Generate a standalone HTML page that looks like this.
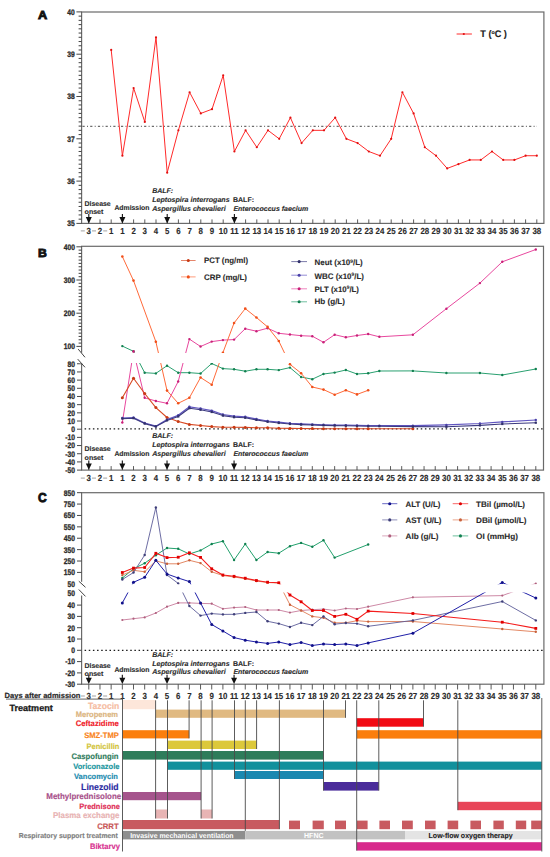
<!DOCTYPE html>
<html><head><meta charset="utf-8"><style>
html,body{margin:0;padding:0;background:#fff;width:550px;height:857px;overflow:hidden}
svg{display:block}
text{font-family:"Liberation Sans",sans-serif;text-rendering:geometricPrecision}
</style></head><body>
<svg width="550" height="857" viewBox="0 0 550 857" font-family='"Liberation Sans", sans-serif'>
<rect width="550" height="857" fill="#ffffff"/>
<defs>
<clipPath id="cbU"><rect x="82" y="246" width="462" height="107"/></clipPath>
<clipPath id="cbL"><rect x="82" y="363.1" width="462" height="107.5"/></clipPath>
<clipPath id="ccU"><rect x="82" y="492" width="462" height="92.3"/></clipPath>
<clipPath id="ccL"><rect x="82" y="592.6" width="462" height="92"/></clipPath>
</defs>
<text x="37.9" y="18.95" font-size="11.8" text-anchor="start" fill="#111" font-weight="bold" font-style="normal" textLength="9.2" lengthAdjust="spacingAndGlyphs" stroke="#111" stroke-width="0.9">A</text>
<rect x="81.6" y="12" width="462.3" height="211.4" fill="none" stroke="#6a6a6a" stroke-width="1.2"/>
<line x1="76.4" y1="223.4" x2="81.6" y2="223.4" stroke="#484848" stroke-width="1"/>
<text x="74.8" y="226.28" font-size="8" text-anchor="end" fill="#2a2a2a" font-weight="bold" font-style="normal" textLength="7.47" lengthAdjust="spacingAndGlyphs" stroke="#2a2a2a" stroke-width="0.3">35</text>
<line x1="78.6" y1="219.17" x2="81.6" y2="219.17" stroke="#484848" stroke-width="1.05"/>
<line x1="78.6" y1="214.94" x2="81.6" y2="214.94" stroke="#484848" stroke-width="1.05"/>
<line x1="78.6" y1="210.71" x2="81.6" y2="210.71" stroke="#484848" stroke-width="1.05"/>
<line x1="78.6" y1="206.48" x2="81.6" y2="206.48" stroke="#484848" stroke-width="1.05"/>
<line x1="78.6" y1="202.25" x2="81.6" y2="202.25" stroke="#484848" stroke-width="1.05"/>
<line x1="78.6" y1="198.02" x2="81.6" y2="198.02" stroke="#484848" stroke-width="1.05"/>
<line x1="78.6" y1="193.79" x2="81.6" y2="193.79" stroke="#484848" stroke-width="1.05"/>
<line x1="78.6" y1="189.56" x2="81.6" y2="189.56" stroke="#484848" stroke-width="1.05"/>
<line x1="78.6" y1="185.33" x2="81.6" y2="185.33" stroke="#484848" stroke-width="1.05"/>
<line x1="76.4" y1="181.1" x2="81.6" y2="181.1" stroke="#484848" stroke-width="1"/>
<text x="74.8" y="183.98" font-size="8" text-anchor="end" fill="#2a2a2a" font-weight="bold" font-style="normal" textLength="7.47" lengthAdjust="spacingAndGlyphs" stroke="#2a2a2a" stroke-width="0.3">36</text>
<line x1="78.6" y1="176.87" x2="81.6" y2="176.87" stroke="#484848" stroke-width="1.05"/>
<line x1="78.6" y1="172.64" x2="81.6" y2="172.64" stroke="#484848" stroke-width="1.05"/>
<line x1="78.6" y1="168.41" x2="81.6" y2="168.41" stroke="#484848" stroke-width="1.05"/>
<line x1="78.6" y1="164.18" x2="81.6" y2="164.18" stroke="#484848" stroke-width="1.05"/>
<line x1="78.6" y1="159.95" x2="81.6" y2="159.95" stroke="#484848" stroke-width="1.05"/>
<line x1="78.6" y1="155.72" x2="81.6" y2="155.72" stroke="#484848" stroke-width="1.05"/>
<line x1="78.6" y1="151.49" x2="81.6" y2="151.49" stroke="#484848" stroke-width="1.05"/>
<line x1="78.6" y1="147.26" x2="81.6" y2="147.26" stroke="#484848" stroke-width="1.05"/>
<line x1="78.6" y1="143.03" x2="81.6" y2="143.03" stroke="#484848" stroke-width="1.05"/>
<line x1="76.4" y1="138.8" x2="81.6" y2="138.8" stroke="#484848" stroke-width="1"/>
<text x="74.8" y="141.68" font-size="8" text-anchor="end" fill="#2a2a2a" font-weight="bold" font-style="normal" textLength="7.47" lengthAdjust="spacingAndGlyphs" stroke="#2a2a2a" stroke-width="0.3">37</text>
<line x1="78.6" y1="134.57" x2="81.6" y2="134.57" stroke="#484848" stroke-width="1.05"/>
<line x1="78.6" y1="130.34" x2="81.6" y2="130.34" stroke="#484848" stroke-width="1.05"/>
<line x1="78.6" y1="126.11" x2="81.6" y2="126.11" stroke="#484848" stroke-width="1.05"/>
<line x1="78.6" y1="121.88" x2="81.6" y2="121.88" stroke="#484848" stroke-width="1.05"/>
<line x1="78.6" y1="117.65" x2="81.6" y2="117.65" stroke="#484848" stroke-width="1.05"/>
<line x1="78.6" y1="113.42" x2="81.6" y2="113.42" stroke="#484848" stroke-width="1.05"/>
<line x1="78.6" y1="109.19" x2="81.6" y2="109.19" stroke="#484848" stroke-width="1.05"/>
<line x1="78.6" y1="104.96" x2="81.6" y2="104.96" stroke="#484848" stroke-width="1.05"/>
<line x1="78.6" y1="100.73" x2="81.6" y2="100.73" stroke="#484848" stroke-width="1.05"/>
<line x1="76.4" y1="96.5" x2="81.6" y2="96.5" stroke="#484848" stroke-width="1"/>
<text x="74.8" y="99.38" font-size="8" text-anchor="end" fill="#2a2a2a" font-weight="bold" font-style="normal" textLength="7.47" lengthAdjust="spacingAndGlyphs" stroke="#2a2a2a" stroke-width="0.3">38</text>
<line x1="78.6" y1="92.27" x2="81.6" y2="92.27" stroke="#484848" stroke-width="1.05"/>
<line x1="78.6" y1="88.04" x2="81.6" y2="88.04" stroke="#484848" stroke-width="1.05"/>
<line x1="78.6" y1="83.81" x2="81.6" y2="83.81" stroke="#484848" stroke-width="1.05"/>
<line x1="78.6" y1="79.58" x2="81.6" y2="79.58" stroke="#484848" stroke-width="1.05"/>
<line x1="78.6" y1="75.35" x2="81.6" y2="75.35" stroke="#484848" stroke-width="1.05"/>
<line x1="78.6" y1="71.12" x2="81.6" y2="71.12" stroke="#484848" stroke-width="1.05"/>
<line x1="78.6" y1="66.89" x2="81.6" y2="66.89" stroke="#484848" stroke-width="1.05"/>
<line x1="78.6" y1="62.66" x2="81.6" y2="62.66" stroke="#484848" stroke-width="1.05"/>
<line x1="78.6" y1="58.43" x2="81.6" y2="58.43" stroke="#484848" stroke-width="1.05"/>
<line x1="76.4" y1="54.2" x2="81.6" y2="54.2" stroke="#484848" stroke-width="1"/>
<text x="74.8" y="57.08" font-size="8" text-anchor="end" fill="#2a2a2a" font-weight="bold" font-style="normal" textLength="7.47" lengthAdjust="spacingAndGlyphs" stroke="#2a2a2a" stroke-width="0.3">39</text>
<line x1="78.6" y1="49.97" x2="81.6" y2="49.97" stroke="#484848" stroke-width="1.05"/>
<line x1="78.6" y1="45.74" x2="81.6" y2="45.74" stroke="#484848" stroke-width="1.05"/>
<line x1="78.6" y1="41.51" x2="81.6" y2="41.51" stroke="#484848" stroke-width="1.05"/>
<line x1="78.6" y1="37.28" x2="81.6" y2="37.28" stroke="#484848" stroke-width="1.05"/>
<line x1="78.6" y1="33.05" x2="81.6" y2="33.05" stroke="#484848" stroke-width="1.05"/>
<line x1="78.6" y1="28.82" x2="81.6" y2="28.82" stroke="#484848" stroke-width="1.05"/>
<line x1="78.6" y1="24.59" x2="81.6" y2="24.59" stroke="#484848" stroke-width="1.05"/>
<line x1="78.6" y1="20.36" x2="81.6" y2="20.36" stroke="#484848" stroke-width="1.05"/>
<line x1="78.6" y1="16.13" x2="81.6" y2="16.13" stroke="#484848" stroke-width="1.05"/>
<line x1="76.4" y1="11.9" x2="81.6" y2="11.9" stroke="#484848" stroke-width="1"/>
<text x="74.8" y="14.78" font-size="8" text-anchor="end" fill="#2a2a2a" font-weight="bold" font-style="normal" textLength="7.47" lengthAdjust="spacingAndGlyphs" stroke="#2a2a2a" stroke-width="0.3">40</text>
<line x1="88.8" y1="223.4" x2="88.8" y2="219.4" stroke="#484848" stroke-width="0.9"/>
<line x1="100" y1="223.4" x2="100" y2="219.4" stroke="#484848" stroke-width="0.9"/>
<line x1="111.2" y1="223.4" x2="111.2" y2="219.4" stroke="#484848" stroke-width="0.9"/>
<line x1="122.4" y1="223.4" x2="122.4" y2="219.4" stroke="#484848" stroke-width="0.9"/>
<line x1="133.6" y1="223.4" x2="133.6" y2="219.4" stroke="#484848" stroke-width="0.9"/>
<line x1="144.8" y1="223.4" x2="144.8" y2="219.4" stroke="#484848" stroke-width="0.9"/>
<line x1="156" y1="223.4" x2="156" y2="219.4" stroke="#484848" stroke-width="0.9"/>
<line x1="167.2" y1="223.4" x2="167.2" y2="219.4" stroke="#484848" stroke-width="0.9"/>
<line x1="178.4" y1="223.4" x2="178.4" y2="219.4" stroke="#484848" stroke-width="0.9"/>
<line x1="189.6" y1="223.4" x2="189.6" y2="219.4" stroke="#484848" stroke-width="0.9"/>
<line x1="200.8" y1="223.4" x2="200.8" y2="219.4" stroke="#484848" stroke-width="0.9"/>
<line x1="212" y1="223.4" x2="212" y2="219.4" stroke="#484848" stroke-width="0.9"/>
<line x1="223.2" y1="223.4" x2="223.2" y2="219.4" stroke="#484848" stroke-width="0.9"/>
<line x1="234.4" y1="223.4" x2="234.4" y2="219.4" stroke="#484848" stroke-width="0.9"/>
<line x1="245.6" y1="223.4" x2="245.6" y2="219.4" stroke="#484848" stroke-width="0.9"/>
<line x1="256.8" y1="223.4" x2="256.8" y2="219.4" stroke="#484848" stroke-width="0.9"/>
<line x1="268" y1="223.4" x2="268" y2="219.4" stroke="#484848" stroke-width="0.9"/>
<line x1="279.2" y1="223.4" x2="279.2" y2="219.4" stroke="#484848" stroke-width="0.9"/>
<line x1="290.4" y1="223.4" x2="290.4" y2="219.4" stroke="#484848" stroke-width="0.9"/>
<line x1="301.6" y1="223.4" x2="301.6" y2="219.4" stroke="#484848" stroke-width="0.9"/>
<line x1="312.8" y1="223.4" x2="312.8" y2="219.4" stroke="#484848" stroke-width="0.9"/>
<line x1="324" y1="223.4" x2="324" y2="219.4" stroke="#484848" stroke-width="0.9"/>
<line x1="335.2" y1="223.4" x2="335.2" y2="219.4" stroke="#484848" stroke-width="0.9"/>
<line x1="346.4" y1="223.4" x2="346.4" y2="219.4" stroke="#484848" stroke-width="0.9"/>
<line x1="357.6" y1="223.4" x2="357.6" y2="219.4" stroke="#484848" stroke-width="0.9"/>
<line x1="368.8" y1="223.4" x2="368.8" y2="219.4" stroke="#484848" stroke-width="0.9"/>
<line x1="380" y1="223.4" x2="380" y2="219.4" stroke="#484848" stroke-width="0.9"/>
<line x1="391.2" y1="223.4" x2="391.2" y2="219.4" stroke="#484848" stroke-width="0.9"/>
<line x1="402.4" y1="223.4" x2="402.4" y2="219.4" stroke="#484848" stroke-width="0.9"/>
<line x1="413.6" y1="223.4" x2="413.6" y2="219.4" stroke="#484848" stroke-width="0.9"/>
<line x1="424.8" y1="223.4" x2="424.8" y2="219.4" stroke="#484848" stroke-width="0.9"/>
<line x1="436" y1="223.4" x2="436" y2="219.4" stroke="#484848" stroke-width="0.9"/>
<line x1="447.2" y1="223.4" x2="447.2" y2="219.4" stroke="#484848" stroke-width="0.9"/>
<line x1="458.4" y1="223.4" x2="458.4" y2="219.4" stroke="#484848" stroke-width="0.9"/>
<line x1="469.6" y1="223.4" x2="469.6" y2="219.4" stroke="#484848" stroke-width="0.9"/>
<line x1="480.8" y1="223.4" x2="480.8" y2="219.4" stroke="#484848" stroke-width="0.9"/>
<line x1="492" y1="223.4" x2="492" y2="219.4" stroke="#484848" stroke-width="0.9"/>
<line x1="503.2" y1="223.4" x2="503.2" y2="219.4" stroke="#484848" stroke-width="0.9"/>
<line x1="514.4" y1="223.4" x2="514.4" y2="219.4" stroke="#484848" stroke-width="0.9"/>
<line x1="525.6" y1="223.4" x2="525.6" y2="219.4" stroke="#484848" stroke-width="0.9"/>
<line x1="536.8" y1="223.4" x2="536.8" y2="219.4" stroke="#484848" stroke-width="0.9"/>
<text x="88.8" y="233.77" font-size="8.8" text-anchor="middle" fill="#2a2a2a" font-weight="bold" font-style="normal" textLength="4.4" lengthAdjust="spacingAndGlyphs" stroke="#2a2a2a" stroke-width="0.12">3</text>
<line x1="80.8" y1="230.9" x2="84.8" y2="230.9" stroke="#8a8a8a" stroke-width="0.8"/>
<text x="100" y="233.77" font-size="8.8" text-anchor="middle" fill="#2a2a2a" font-weight="bold" font-style="normal" textLength="4.4" lengthAdjust="spacingAndGlyphs" stroke="#2a2a2a" stroke-width="0.12">2</text>
<line x1="92" y1="230.9" x2="96" y2="230.9" stroke="#8a8a8a" stroke-width="0.8"/>
<text x="111.2" y="233.77" font-size="8.8" text-anchor="middle" fill="#2a2a2a" font-weight="bold" font-style="normal" textLength="4.4" lengthAdjust="spacingAndGlyphs" stroke="#2a2a2a" stroke-width="0.12">1</text>
<line x1="103.2" y1="230.9" x2="107.2" y2="230.9" stroke="#8a8a8a" stroke-width="0.8"/>
<text x="122.4" y="233.77" font-size="8.8" text-anchor="middle" fill="#2a2a2a" font-weight="bold" font-style="normal" textLength="4.4" lengthAdjust="spacingAndGlyphs" stroke="#2a2a2a" stroke-width="0.12">1</text>
<text x="133.6" y="233.77" font-size="8.8" text-anchor="middle" fill="#2a2a2a" font-weight="bold" font-style="normal" textLength="4.4" lengthAdjust="spacingAndGlyphs" stroke="#2a2a2a" stroke-width="0.12">2</text>
<text x="144.8" y="233.77" font-size="8.8" text-anchor="middle" fill="#2a2a2a" font-weight="bold" font-style="normal" textLength="4.4" lengthAdjust="spacingAndGlyphs" stroke="#2a2a2a" stroke-width="0.12">3</text>
<text x="156" y="233.77" font-size="8.8" text-anchor="middle" fill="#2a2a2a" font-weight="bold" font-style="normal" textLength="4.4" lengthAdjust="spacingAndGlyphs" stroke="#2a2a2a" stroke-width="0.12">4</text>
<text x="167.2" y="233.77" font-size="8.8" text-anchor="middle" fill="#2a2a2a" font-weight="bold" font-style="normal" textLength="4.4" lengthAdjust="spacingAndGlyphs" stroke="#2a2a2a" stroke-width="0.12">5</text>
<text x="178.4" y="233.77" font-size="8.8" text-anchor="middle" fill="#2a2a2a" font-weight="bold" font-style="normal" textLength="4.4" lengthAdjust="spacingAndGlyphs" stroke="#2a2a2a" stroke-width="0.12">6</text>
<text x="189.6" y="233.77" font-size="8.8" text-anchor="middle" fill="#2a2a2a" font-weight="bold" font-style="normal" textLength="4.4" lengthAdjust="spacingAndGlyphs" stroke="#2a2a2a" stroke-width="0.12">7</text>
<text x="200.8" y="233.77" font-size="8.8" text-anchor="middle" fill="#2a2a2a" font-weight="bold" font-style="normal" textLength="4.4" lengthAdjust="spacingAndGlyphs" stroke="#2a2a2a" stroke-width="0.12">8</text>
<text x="212" y="233.77" font-size="8.8" text-anchor="middle" fill="#2a2a2a" font-weight="bold" font-style="normal" textLength="4.4" lengthAdjust="spacingAndGlyphs" stroke="#2a2a2a" stroke-width="0.12">9</text>
<text x="223.2" y="233.77" font-size="8.8" text-anchor="middle" fill="#2a2a2a" font-weight="bold" font-style="normal" textLength="8.81" lengthAdjust="spacingAndGlyphs" stroke="#2a2a2a" stroke-width="0.12">10</text>
<text x="234.4" y="233.77" font-size="8.8" text-anchor="middle" fill="#2a2a2a" font-weight="bold" font-style="normal" textLength="8.37" lengthAdjust="spacingAndGlyphs" stroke="#2a2a2a" stroke-width="0.12">11</text>
<text x="245.6" y="233.77" font-size="8.8" text-anchor="middle" fill="#2a2a2a" font-weight="bold" font-style="normal" textLength="8.81" lengthAdjust="spacingAndGlyphs" stroke="#2a2a2a" stroke-width="0.12">12</text>
<text x="256.8" y="233.77" font-size="8.8" text-anchor="middle" fill="#2a2a2a" font-weight="bold" font-style="normal" textLength="8.81" lengthAdjust="spacingAndGlyphs" stroke="#2a2a2a" stroke-width="0.12">13</text>
<text x="268" y="233.77" font-size="8.8" text-anchor="middle" fill="#2a2a2a" font-weight="bold" font-style="normal" textLength="8.81" lengthAdjust="spacingAndGlyphs" stroke="#2a2a2a" stroke-width="0.12">14</text>
<text x="279.2" y="233.77" font-size="8.8" text-anchor="middle" fill="#2a2a2a" font-weight="bold" font-style="normal" textLength="8.81" lengthAdjust="spacingAndGlyphs" stroke="#2a2a2a" stroke-width="0.12">15</text>
<text x="290.4" y="233.77" font-size="8.8" text-anchor="middle" fill="#2a2a2a" font-weight="bold" font-style="normal" textLength="8.81" lengthAdjust="spacingAndGlyphs" stroke="#2a2a2a" stroke-width="0.12">16</text>
<text x="301.6" y="233.77" font-size="8.8" text-anchor="middle" fill="#2a2a2a" font-weight="bold" font-style="normal" textLength="8.81" lengthAdjust="spacingAndGlyphs" stroke="#2a2a2a" stroke-width="0.12">17</text>
<text x="312.8" y="233.77" font-size="8.8" text-anchor="middle" fill="#2a2a2a" font-weight="bold" font-style="normal" textLength="8.81" lengthAdjust="spacingAndGlyphs" stroke="#2a2a2a" stroke-width="0.12">18</text>
<text x="324" y="233.77" font-size="8.8" text-anchor="middle" fill="#2a2a2a" font-weight="bold" font-style="normal" textLength="8.81" lengthAdjust="spacingAndGlyphs" stroke="#2a2a2a" stroke-width="0.12">19</text>
<text x="335.2" y="233.77" font-size="8.8" text-anchor="middle" fill="#2a2a2a" font-weight="bold" font-style="normal" textLength="8.81" lengthAdjust="spacingAndGlyphs" stroke="#2a2a2a" stroke-width="0.12">20</text>
<text x="346.4" y="233.77" font-size="8.8" text-anchor="middle" fill="#2a2a2a" font-weight="bold" font-style="normal" textLength="8.81" lengthAdjust="spacingAndGlyphs" stroke="#2a2a2a" stroke-width="0.12">21</text>
<text x="357.6" y="233.77" font-size="8.8" text-anchor="middle" fill="#2a2a2a" font-weight="bold" font-style="normal" textLength="8.81" lengthAdjust="spacingAndGlyphs" stroke="#2a2a2a" stroke-width="0.12">22</text>
<text x="368.8" y="233.77" font-size="8.8" text-anchor="middle" fill="#2a2a2a" font-weight="bold" font-style="normal" textLength="8.81" lengthAdjust="spacingAndGlyphs" stroke="#2a2a2a" stroke-width="0.12">23</text>
<text x="380" y="233.77" font-size="8.8" text-anchor="middle" fill="#2a2a2a" font-weight="bold" font-style="normal" textLength="8.81" lengthAdjust="spacingAndGlyphs" stroke="#2a2a2a" stroke-width="0.12">24</text>
<text x="391.2" y="233.77" font-size="8.8" text-anchor="middle" fill="#2a2a2a" font-weight="bold" font-style="normal" textLength="8.81" lengthAdjust="spacingAndGlyphs" stroke="#2a2a2a" stroke-width="0.12">25</text>
<text x="402.4" y="233.77" font-size="8.8" text-anchor="middle" fill="#2a2a2a" font-weight="bold" font-style="normal" textLength="8.81" lengthAdjust="spacingAndGlyphs" stroke="#2a2a2a" stroke-width="0.12">26</text>
<text x="413.6" y="233.77" font-size="8.8" text-anchor="middle" fill="#2a2a2a" font-weight="bold" font-style="normal" textLength="8.81" lengthAdjust="spacingAndGlyphs" stroke="#2a2a2a" stroke-width="0.12">27</text>
<text x="424.8" y="233.77" font-size="8.8" text-anchor="middle" fill="#2a2a2a" font-weight="bold" font-style="normal" textLength="8.81" lengthAdjust="spacingAndGlyphs" stroke="#2a2a2a" stroke-width="0.12">28</text>
<text x="436" y="233.77" font-size="8.8" text-anchor="middle" fill="#2a2a2a" font-weight="bold" font-style="normal" textLength="8.81" lengthAdjust="spacingAndGlyphs" stroke="#2a2a2a" stroke-width="0.12">29</text>
<text x="447.2" y="233.77" font-size="8.8" text-anchor="middle" fill="#2a2a2a" font-weight="bold" font-style="normal" textLength="8.81" lengthAdjust="spacingAndGlyphs" stroke="#2a2a2a" stroke-width="0.12">30</text>
<text x="458.4" y="233.77" font-size="8.8" text-anchor="middle" fill="#2a2a2a" font-weight="bold" font-style="normal" textLength="8.81" lengthAdjust="spacingAndGlyphs" stroke="#2a2a2a" stroke-width="0.12">31</text>
<text x="469.6" y="233.77" font-size="8.8" text-anchor="middle" fill="#2a2a2a" font-weight="bold" font-style="normal" textLength="8.81" lengthAdjust="spacingAndGlyphs" stroke="#2a2a2a" stroke-width="0.12">32</text>
<text x="480.8" y="233.77" font-size="8.8" text-anchor="middle" fill="#2a2a2a" font-weight="bold" font-style="normal" textLength="8.81" lengthAdjust="spacingAndGlyphs" stroke="#2a2a2a" stroke-width="0.12">33</text>
<text x="492" y="233.77" font-size="8.8" text-anchor="middle" fill="#2a2a2a" font-weight="bold" font-style="normal" textLength="8.81" lengthAdjust="spacingAndGlyphs" stroke="#2a2a2a" stroke-width="0.12">34</text>
<text x="503.2" y="233.77" font-size="8.8" text-anchor="middle" fill="#2a2a2a" font-weight="bold" font-style="normal" textLength="8.81" lengthAdjust="spacingAndGlyphs" stroke="#2a2a2a" stroke-width="0.12">35</text>
<text x="514.4" y="233.77" font-size="8.8" text-anchor="middle" fill="#2a2a2a" font-weight="bold" font-style="normal" textLength="8.81" lengthAdjust="spacingAndGlyphs" stroke="#2a2a2a" stroke-width="0.12">36</text>
<text x="525.6" y="233.77" font-size="8.8" text-anchor="middle" fill="#2a2a2a" font-weight="bold" font-style="normal" textLength="8.81" lengthAdjust="spacingAndGlyphs" stroke="#2a2a2a" stroke-width="0.12">37</text>
<text x="536.8" y="233.77" font-size="8.8" text-anchor="middle" fill="#2a2a2a" font-weight="bold" font-style="normal" textLength="8.81" lengthAdjust="spacingAndGlyphs" stroke="#2a2a2a" stroke-width="0.12">38</text>
<line x1="88.8" y1="214.1" x2="88.8" y2="217.6" stroke="#111" stroke-width="1.1"/>
<polygon points="85.8,217.1 91.8,217.1 88.8,223.4" fill="#111"/>
<line x1="122.4" y1="214.1" x2="122.4" y2="217.6" stroke="#111" stroke-width="1.1"/>
<polygon points="119.4,217.1 125.4,217.1 122.4,223.4" fill="#111"/>
<line x1="167.2" y1="214.1" x2="167.2" y2="217.6" stroke="#111" stroke-width="1.1"/>
<polygon points="164.2,217.1 170.2,217.1 167.2,223.4" fill="#111"/>
<line x1="234.4" y1="214.1" x2="234.4" y2="217.6" stroke="#111" stroke-width="1.1"/>
<polygon points="231.4,217.1 237.4,217.1 234.4,223.4" fill="#111"/>
<text x="84.6" y="205.8" font-size="6.95" text-anchor="start" fill="#2a2a2a" font-weight="bold" font-style="normal" textLength="26.1" lengthAdjust="spacingAndGlyphs" stroke="#2a2a2a" stroke-width="0.12">Disease</text>
<text x="84.6" y="214.3" font-size="6.95" text-anchor="start" fill="#2a2a2a" font-weight="bold" font-style="normal" textLength="18.8" lengthAdjust="spacingAndGlyphs" stroke="#2a2a2a" stroke-width="0.12">onset</text>
<text x="114.4" y="210.28" font-size="6.9" text-anchor="start" fill="#2a2a2a" font-weight="bold" font-style="normal" textLength="35.1" lengthAdjust="spacingAndGlyphs" stroke="#2a2a2a" stroke-width="0.12">Admission</text>
<text x="152.2" y="192.82" font-size="7" text-anchor="start" fill="#2a2a2a" font-weight="bold" font-style="italic" textLength="21" lengthAdjust="spacingAndGlyphs" stroke="#2a2a2a" stroke-width="0.12">BALF:</text>
<text x="152.2" y="201.76" font-size="7.1" text-anchor="start" fill="#2a2a2a" font-weight="bold" font-style="italic" textLength="77.5" lengthAdjust="spacingAndGlyphs" stroke="#2a2a2a" stroke-width="0.12">Leptospira interrogans</text>
<text x="152.2" y="211.46" font-size="7.1" text-anchor="start" fill="#2a2a2a" font-weight="bold" font-style="italic" textLength="73.5" lengthAdjust="spacingAndGlyphs" stroke="#2a2a2a" stroke-width="0.12">Aspergillus chevalieri</text>
<text x="233" y="201.72" font-size="7" text-anchor="start" fill="#2a2a2a" font-weight="bold" font-style="normal" textLength="21" lengthAdjust="spacingAndGlyphs" stroke="#2a2a2a" stroke-width="0.12">BALF:</text>
<text x="233.4" y="211.42" font-size="7" text-anchor="start" fill="#2a2a2a" font-weight="bold" font-style="italic" textLength="74.9" lengthAdjust="spacingAndGlyphs" stroke="#2a2a2a" stroke-width="0.12">Enterococcus faecium</text>
<line x1="82.5" y1="126.3" x2="537" y2="126.3" stroke="#333" stroke-width="0.9" stroke-dasharray="2.2,2.3,1,2.2"/>
<g>
<polyline points="111.2,49.97 122.4,155.72 133.6,88.04 144.8,121.88 156,37.28 167.2,172.64 178.4,130.34 189.6,92.27 200.8,113.42 212,109.19 223.2,75.35 234.4,151.49 245.6,130.34 256.8,147.26 268,130.34 279.2,138.8 290.4,117.65 301.6,143.03 312.8,130.34 324,130.34 335.2,117.65 346.4,138.8 357.6,143.03 368.8,151.49 380,155.72 391.2,138.8 402.4,92.27 413.6,113.42 424.8,147.26 436,155.72 447.2,168.41 458.4,164.18 469.6,159.95 480.8,159.95 492,151.49 503.2,159.95 514.4,159.95 525.6,155.72 536.8,155.72" fill="none" stroke="#ff2a2a" stroke-width="1" stroke-linejoin="round"/>
<circle cx="111.2" cy="49.97" r="1.1" fill="#e01010"/>
<circle cx="122.4" cy="155.72" r="1.1" fill="#e01010"/>
<circle cx="133.6" cy="88.04" r="1.1" fill="#e01010"/>
<circle cx="144.8" cy="121.88" r="1.1" fill="#e01010"/>
<circle cx="156" cy="37.28" r="1.1" fill="#e01010"/>
<circle cx="167.2" cy="172.64" r="1.1" fill="#e01010"/>
<circle cx="178.4" cy="130.34" r="1.1" fill="#e01010"/>
<circle cx="189.6" cy="92.27" r="1.1" fill="#e01010"/>
<circle cx="200.8" cy="113.42" r="1.1" fill="#e01010"/>
<circle cx="212" cy="109.19" r="1.1" fill="#e01010"/>
<circle cx="223.2" cy="75.35" r="1.1" fill="#e01010"/>
<circle cx="234.4" cy="151.49" r="1.1" fill="#e01010"/>
<circle cx="245.6" cy="130.34" r="1.1" fill="#e01010"/>
<circle cx="256.8" cy="147.26" r="1.1" fill="#e01010"/>
<circle cx="268" cy="130.34" r="1.1" fill="#e01010"/>
<circle cx="279.2" cy="138.8" r="1.1" fill="#e01010"/>
<circle cx="290.4" cy="117.65" r="1.1" fill="#e01010"/>
<circle cx="301.6" cy="143.03" r="1.1" fill="#e01010"/>
<circle cx="312.8" cy="130.34" r="1.1" fill="#e01010"/>
<circle cx="324" cy="130.34" r="1.1" fill="#e01010"/>
<circle cx="335.2" cy="117.65" r="1.1" fill="#e01010"/>
<circle cx="346.4" cy="138.8" r="1.1" fill="#e01010"/>
<circle cx="357.6" cy="143.03" r="1.1" fill="#e01010"/>
<circle cx="368.8" cy="151.49" r="1.1" fill="#e01010"/>
<circle cx="380" cy="155.72" r="1.1" fill="#e01010"/>
<circle cx="391.2" cy="138.8" r="1.1" fill="#e01010"/>
<circle cx="402.4" cy="92.27" r="1.1" fill="#e01010"/>
<circle cx="413.6" cy="113.42" r="1.1" fill="#e01010"/>
<circle cx="424.8" cy="147.26" r="1.1" fill="#e01010"/>
<circle cx="436" cy="155.72" r="1.1" fill="#e01010"/>
<circle cx="447.2" cy="168.41" r="1.1" fill="#e01010"/>
<circle cx="458.4" cy="164.18" r="1.1" fill="#e01010"/>
<circle cx="469.6" cy="159.95" r="1.1" fill="#e01010"/>
<circle cx="480.8" cy="159.95" r="1.1" fill="#e01010"/>
<circle cx="492" cy="151.49" r="1.1" fill="#e01010"/>
<circle cx="503.2" cy="159.95" r="1.1" fill="#e01010"/>
<circle cx="514.4" cy="159.95" r="1.1" fill="#e01010"/>
<circle cx="525.6" cy="155.72" r="1.1" fill="#e01010"/>
<circle cx="536.8" cy="155.72" r="1.1" fill="#e01010"/>
</g>
<line x1="456.6" y1="34" x2="471.9" y2="34" stroke="#ff2a2a" stroke-width="1"/>
<circle cx="463.8" cy="34" r="1.1" fill="#e01010"/>
<text x="480.3" y="37.4" font-size="9.6" font-weight="bold" fill="#222" stroke="#222" stroke-width="0.15" textLength="26.6" lengthAdjust="spacingAndGlyphs">T (<tspan font-size="5.5" dy="-3.4">o</tspan><tspan dy="3.4">C )</tspan></text>
<text x="38.1" y="257.45" font-size="11.8" text-anchor="start" fill="#111" font-weight="bold" font-style="normal" textLength="8.8" lengthAdjust="spacingAndGlyphs" stroke="#111" stroke-width="0.9">B</text>
<rect x="81.6" y="246.3" width="461.9" height="223.8" fill="none" stroke="#6a6a6a" stroke-width="1.2"/>
<line x1="76.4" y1="346.4" x2="81.6" y2="346.4" stroke="#484848" stroke-width="1"/>
<text x="75" y="349.28" font-size="8" text-anchor="end" fill="#2a2a2a" font-weight="bold" font-style="normal" textLength="11.21" lengthAdjust="spacingAndGlyphs" stroke="#2a2a2a" stroke-width="0.3">100</text>
<line x1="78.6" y1="343.08" x2="81.6" y2="343.08" stroke="#484848" stroke-width="1.05"/>
<line x1="78.6" y1="339.76" x2="81.6" y2="339.76" stroke="#484848" stroke-width="1.05"/>
<line x1="78.6" y1="336.44" x2="81.6" y2="336.44" stroke="#484848" stroke-width="1.05"/>
<line x1="78.6" y1="333.12" x2="81.6" y2="333.12" stroke="#484848" stroke-width="1.05"/>
<line x1="78.6" y1="329.8" x2="81.6" y2="329.8" stroke="#484848" stroke-width="1.05"/>
<line x1="78.6" y1="326.48" x2="81.6" y2="326.48" stroke="#484848" stroke-width="1.05"/>
<line x1="78.6" y1="323.16" x2="81.6" y2="323.16" stroke="#484848" stroke-width="1.05"/>
<line x1="78.6" y1="319.84" x2="81.6" y2="319.84" stroke="#484848" stroke-width="1.05"/>
<line x1="78.6" y1="316.52" x2="81.6" y2="316.52" stroke="#484848" stroke-width="1.05"/>
<line x1="76.4" y1="313.2" x2="81.6" y2="313.2" stroke="#484848" stroke-width="1"/>
<text x="75" y="316.08" font-size="8" text-anchor="end" fill="#2a2a2a" font-weight="bold" font-style="normal" textLength="11.21" lengthAdjust="spacingAndGlyphs" stroke="#2a2a2a" stroke-width="0.3">200</text>
<line x1="78.6" y1="309.88" x2="81.6" y2="309.88" stroke="#484848" stroke-width="1.05"/>
<line x1="78.6" y1="306.56" x2="81.6" y2="306.56" stroke="#484848" stroke-width="1.05"/>
<line x1="78.6" y1="303.24" x2="81.6" y2="303.24" stroke="#484848" stroke-width="1.05"/>
<line x1="78.6" y1="299.92" x2="81.6" y2="299.92" stroke="#484848" stroke-width="1.05"/>
<line x1="78.6" y1="296.6" x2="81.6" y2="296.6" stroke="#484848" stroke-width="1.05"/>
<line x1="78.6" y1="293.28" x2="81.6" y2="293.28" stroke="#484848" stroke-width="1.05"/>
<line x1="78.6" y1="289.96" x2="81.6" y2="289.96" stroke="#484848" stroke-width="1.05"/>
<line x1="78.6" y1="286.64" x2="81.6" y2="286.64" stroke="#484848" stroke-width="1.05"/>
<line x1="78.6" y1="283.32" x2="81.6" y2="283.32" stroke="#484848" stroke-width="1.05"/>
<line x1="76.4" y1="280" x2="81.6" y2="280" stroke="#484848" stroke-width="1"/>
<text x="75" y="282.88" font-size="8" text-anchor="end" fill="#2a2a2a" font-weight="bold" font-style="normal" textLength="11.21" lengthAdjust="spacingAndGlyphs" stroke="#2a2a2a" stroke-width="0.3">300</text>
<line x1="78.6" y1="276.68" x2="81.6" y2="276.68" stroke="#484848" stroke-width="1.05"/>
<line x1="78.6" y1="273.36" x2="81.6" y2="273.36" stroke="#484848" stroke-width="1.05"/>
<line x1="78.6" y1="270.04" x2="81.6" y2="270.04" stroke="#484848" stroke-width="1.05"/>
<line x1="78.6" y1="266.72" x2="81.6" y2="266.72" stroke="#484848" stroke-width="1.05"/>
<line x1="78.6" y1="263.4" x2="81.6" y2="263.4" stroke="#484848" stroke-width="1.05"/>
<line x1="78.6" y1="260.08" x2="81.6" y2="260.08" stroke="#484848" stroke-width="1.05"/>
<line x1="78.6" y1="256.76" x2="81.6" y2="256.76" stroke="#484848" stroke-width="1.05"/>
<line x1="78.6" y1="253.44" x2="81.6" y2="253.44" stroke="#484848" stroke-width="1.05"/>
<line x1="78.6" y1="250.12" x2="81.6" y2="250.12" stroke="#484848" stroke-width="1.05"/>
<line x1="76.4" y1="246.8" x2="81.6" y2="246.8" stroke="#484848" stroke-width="1"/>
<text x="75" y="249.68" font-size="8" text-anchor="end" fill="#2a2a2a" font-weight="bold" font-style="normal" textLength="11.21" lengthAdjust="spacingAndGlyphs" stroke="#2a2a2a" stroke-width="0.3">400</text>
<line x1="77" y1="470.1" x2="81.6" y2="470.1" stroke="#484848" stroke-width="1"/>
<text x="75" y="472.98" font-size="8" text-anchor="end" fill="#2a2a2a" font-weight="bold" font-style="normal" textLength="9.71" lengthAdjust="spacingAndGlyphs" stroke="#2a2a2a" stroke-width="0.3">-50</text>
<line x1="77" y1="461.92" x2="81.6" y2="461.92" stroke="#484848" stroke-width="1"/>
<text x="75" y="464.8" font-size="8" text-anchor="end" fill="#2a2a2a" font-weight="bold" font-style="normal" textLength="9.71" lengthAdjust="spacingAndGlyphs" stroke="#2a2a2a" stroke-width="0.3">-40</text>
<line x1="77" y1="453.74" x2="81.6" y2="453.74" stroke="#484848" stroke-width="1"/>
<text x="75" y="456.62" font-size="8" text-anchor="end" fill="#2a2a2a" font-weight="bold" font-style="normal" textLength="9.71" lengthAdjust="spacingAndGlyphs" stroke="#2a2a2a" stroke-width="0.3">-30</text>
<line x1="77" y1="445.56" x2="81.6" y2="445.56" stroke="#484848" stroke-width="1"/>
<text x="75" y="448.44" font-size="8" text-anchor="end" fill="#2a2a2a" font-weight="bold" font-style="normal" textLength="9.71" lengthAdjust="spacingAndGlyphs" stroke="#2a2a2a" stroke-width="0.3">-20</text>
<line x1="77" y1="437.38" x2="81.6" y2="437.38" stroke="#484848" stroke-width="1"/>
<text x="75" y="440.26" font-size="8" text-anchor="end" fill="#2a2a2a" font-weight="bold" font-style="normal" textLength="9.71" lengthAdjust="spacingAndGlyphs" stroke="#2a2a2a" stroke-width="0.3">-10</text>
<line x1="77" y1="429.2" x2="81.6" y2="429.2" stroke="#484848" stroke-width="1"/>
<text x="75" y="432.08" font-size="8" text-anchor="end" fill="#2a2a2a" font-weight="bold" font-style="normal" textLength="3.74" lengthAdjust="spacingAndGlyphs" stroke="#2a2a2a" stroke-width="0.3">0</text>
<line x1="77" y1="421.02" x2="81.6" y2="421.02" stroke="#484848" stroke-width="1"/>
<text x="75" y="423.9" font-size="8" text-anchor="end" fill="#2a2a2a" font-weight="bold" font-style="normal" textLength="7.47" lengthAdjust="spacingAndGlyphs" stroke="#2a2a2a" stroke-width="0.3">10</text>
<line x1="77" y1="412.84" x2="81.6" y2="412.84" stroke="#484848" stroke-width="1"/>
<text x="75" y="415.72" font-size="8" text-anchor="end" fill="#2a2a2a" font-weight="bold" font-style="normal" textLength="7.47" lengthAdjust="spacingAndGlyphs" stroke="#2a2a2a" stroke-width="0.3">20</text>
<line x1="77" y1="404.66" x2="81.6" y2="404.66" stroke="#484848" stroke-width="1"/>
<text x="75" y="407.54" font-size="8" text-anchor="end" fill="#2a2a2a" font-weight="bold" font-style="normal" textLength="7.47" lengthAdjust="spacingAndGlyphs" stroke="#2a2a2a" stroke-width="0.3">30</text>
<line x1="77" y1="396.48" x2="81.6" y2="396.48" stroke="#484848" stroke-width="1"/>
<text x="75" y="399.36" font-size="8" text-anchor="end" fill="#2a2a2a" font-weight="bold" font-style="normal" textLength="7.47" lengthAdjust="spacingAndGlyphs" stroke="#2a2a2a" stroke-width="0.3">40</text>
<line x1="77" y1="388.3" x2="81.6" y2="388.3" stroke="#484848" stroke-width="1"/>
<text x="75" y="391.18" font-size="8" text-anchor="end" fill="#2a2a2a" font-weight="bold" font-style="normal" textLength="7.47" lengthAdjust="spacingAndGlyphs" stroke="#2a2a2a" stroke-width="0.3">50</text>
<line x1="77" y1="380.12" x2="81.6" y2="380.12" stroke="#484848" stroke-width="1"/>
<text x="75" y="383" font-size="8" text-anchor="end" fill="#2a2a2a" font-weight="bold" font-style="normal" textLength="7.47" lengthAdjust="spacingAndGlyphs" stroke="#2a2a2a" stroke-width="0.3">60</text>
<line x1="77" y1="371.94" x2="81.6" y2="371.94" stroke="#484848" stroke-width="1"/>
<text x="75" y="374.82" font-size="8" text-anchor="end" fill="#2a2a2a" font-weight="bold" font-style="normal" textLength="7.47" lengthAdjust="spacingAndGlyphs" stroke="#2a2a2a" stroke-width="0.3">70</text>
<line x1="77" y1="363.76" x2="81.6" y2="363.76" stroke="#484848" stroke-width="1"/>
<text x="75" y="366.64" font-size="8" text-anchor="end" fill="#2a2a2a" font-weight="bold" font-style="normal" textLength="7.47" lengthAdjust="spacingAndGlyphs" stroke="#2a2a2a" stroke-width="0.3">80</text>
<rect x="79.5" y="352.7" width="4" height="10.5" fill="#fff"/>
<line x1="78.2" y1="349.1" x2="85" y2="357.3" stroke="#444" stroke-width="1"/>
<line x1="77.7" y1="359.1" x2="85" y2="367.3" stroke="#444" stroke-width="1"/>
<line x1="88.8" y1="470.1" x2="88.8" y2="466.1" stroke="#484848" stroke-width="0.9"/>
<line x1="99.97" y1="470.1" x2="99.97" y2="466.1" stroke="#484848" stroke-width="0.9"/>
<line x1="111.15" y1="470.1" x2="111.15" y2="466.1" stroke="#484848" stroke-width="0.9"/>
<line x1="122.33" y1="470.1" x2="122.33" y2="466.1" stroke="#484848" stroke-width="0.9"/>
<line x1="133.5" y1="470.1" x2="133.5" y2="466.1" stroke="#484848" stroke-width="0.9"/>
<line x1="144.68" y1="470.1" x2="144.68" y2="466.1" stroke="#484848" stroke-width="0.9"/>
<line x1="155.85" y1="470.1" x2="155.85" y2="466.1" stroke="#484848" stroke-width="0.9"/>
<line x1="167.03" y1="470.1" x2="167.03" y2="466.1" stroke="#484848" stroke-width="0.9"/>
<line x1="178.2" y1="470.1" x2="178.2" y2="466.1" stroke="#484848" stroke-width="0.9"/>
<line x1="189.38" y1="470.1" x2="189.38" y2="466.1" stroke="#484848" stroke-width="0.9"/>
<line x1="200.55" y1="470.1" x2="200.55" y2="466.1" stroke="#484848" stroke-width="0.9"/>
<line x1="211.73" y1="470.1" x2="211.73" y2="466.1" stroke="#484848" stroke-width="0.9"/>
<line x1="222.9" y1="470.1" x2="222.9" y2="466.1" stroke="#484848" stroke-width="0.9"/>
<line x1="234.07" y1="470.1" x2="234.07" y2="466.1" stroke="#484848" stroke-width="0.9"/>
<line x1="245.25" y1="470.1" x2="245.25" y2="466.1" stroke="#484848" stroke-width="0.9"/>
<line x1="256.43" y1="470.1" x2="256.43" y2="466.1" stroke="#484848" stroke-width="0.9"/>
<line x1="267.6" y1="470.1" x2="267.6" y2="466.1" stroke="#484848" stroke-width="0.9"/>
<line x1="278.78" y1="470.1" x2="278.78" y2="466.1" stroke="#484848" stroke-width="0.9"/>
<line x1="289.95" y1="470.1" x2="289.95" y2="466.1" stroke="#484848" stroke-width="0.9"/>
<line x1="301.12" y1="470.1" x2="301.12" y2="466.1" stroke="#484848" stroke-width="0.9"/>
<line x1="312.3" y1="470.1" x2="312.3" y2="466.1" stroke="#484848" stroke-width="0.9"/>
<line x1="323.48" y1="470.1" x2="323.48" y2="466.1" stroke="#484848" stroke-width="0.9"/>
<line x1="334.65" y1="470.1" x2="334.65" y2="466.1" stroke="#484848" stroke-width="0.9"/>
<line x1="345.83" y1="470.1" x2="345.83" y2="466.1" stroke="#484848" stroke-width="0.9"/>
<line x1="357" y1="470.1" x2="357" y2="466.1" stroke="#484848" stroke-width="0.9"/>
<line x1="368.18" y1="470.1" x2="368.18" y2="466.1" stroke="#484848" stroke-width="0.9"/>
<line x1="379.35" y1="470.1" x2="379.35" y2="466.1" stroke="#484848" stroke-width="0.9"/>
<line x1="390.53" y1="470.1" x2="390.53" y2="466.1" stroke="#484848" stroke-width="0.9"/>
<line x1="401.7" y1="470.1" x2="401.7" y2="466.1" stroke="#484848" stroke-width="0.9"/>
<line x1="412.88" y1="470.1" x2="412.88" y2="466.1" stroke="#484848" stroke-width="0.9"/>
<line x1="424.05" y1="470.1" x2="424.05" y2="466.1" stroke="#484848" stroke-width="0.9"/>
<line x1="435.23" y1="470.1" x2="435.23" y2="466.1" stroke="#484848" stroke-width="0.9"/>
<line x1="446.4" y1="470.1" x2="446.4" y2="466.1" stroke="#484848" stroke-width="0.9"/>
<line x1="457.58" y1="470.1" x2="457.58" y2="466.1" stroke="#484848" stroke-width="0.9"/>
<line x1="468.75" y1="470.1" x2="468.75" y2="466.1" stroke="#484848" stroke-width="0.9"/>
<line x1="479.93" y1="470.1" x2="479.93" y2="466.1" stroke="#484848" stroke-width="0.9"/>
<line x1="491.1" y1="470.1" x2="491.1" y2="466.1" stroke="#484848" stroke-width="0.9"/>
<line x1="502.28" y1="470.1" x2="502.28" y2="466.1" stroke="#484848" stroke-width="0.9"/>
<line x1="513.45" y1="470.1" x2="513.45" y2="466.1" stroke="#484848" stroke-width="0.9"/>
<line x1="524.62" y1="470.1" x2="524.62" y2="466.1" stroke="#484848" stroke-width="0.9"/>
<line x1="535.8" y1="470.1" x2="535.8" y2="466.1" stroke="#484848" stroke-width="0.9"/>
<text x="88.8" y="480.97" font-size="8.8" text-anchor="middle" fill="#2a2a2a" font-weight="bold" font-style="normal" textLength="4.4" lengthAdjust="spacingAndGlyphs" stroke="#2a2a2a" stroke-width="0.12">3</text>
<line x1="80.8" y1="478.1" x2="84.8" y2="478.1" stroke="#8a8a8a" stroke-width="0.8"/>
<text x="99.97" y="480.97" font-size="8.8" text-anchor="middle" fill="#2a2a2a" font-weight="bold" font-style="normal" textLength="4.4" lengthAdjust="spacingAndGlyphs" stroke="#2a2a2a" stroke-width="0.12">2</text>
<line x1="91.97" y1="478.1" x2="95.97" y2="478.1" stroke="#8a8a8a" stroke-width="0.8"/>
<text x="111.15" y="480.97" font-size="8.8" text-anchor="middle" fill="#2a2a2a" font-weight="bold" font-style="normal" textLength="4.4" lengthAdjust="spacingAndGlyphs" stroke="#2a2a2a" stroke-width="0.12">1</text>
<line x1="103.15" y1="478.1" x2="107.15" y2="478.1" stroke="#8a8a8a" stroke-width="0.8"/>
<text x="122.33" y="480.97" font-size="8.8" text-anchor="middle" fill="#2a2a2a" font-weight="bold" font-style="normal" textLength="4.4" lengthAdjust="spacingAndGlyphs" stroke="#2a2a2a" stroke-width="0.12">1</text>
<text x="133.5" y="480.97" font-size="8.8" text-anchor="middle" fill="#2a2a2a" font-weight="bold" font-style="normal" textLength="4.4" lengthAdjust="spacingAndGlyphs" stroke="#2a2a2a" stroke-width="0.12">2</text>
<text x="144.68" y="480.97" font-size="8.8" text-anchor="middle" fill="#2a2a2a" font-weight="bold" font-style="normal" textLength="4.4" lengthAdjust="spacingAndGlyphs" stroke="#2a2a2a" stroke-width="0.12">3</text>
<text x="155.85" y="480.97" font-size="8.8" text-anchor="middle" fill="#2a2a2a" font-weight="bold" font-style="normal" textLength="4.4" lengthAdjust="spacingAndGlyphs" stroke="#2a2a2a" stroke-width="0.12">4</text>
<text x="167.03" y="480.97" font-size="8.8" text-anchor="middle" fill="#2a2a2a" font-weight="bold" font-style="normal" textLength="4.4" lengthAdjust="spacingAndGlyphs" stroke="#2a2a2a" stroke-width="0.12">5</text>
<text x="178.2" y="480.97" font-size="8.8" text-anchor="middle" fill="#2a2a2a" font-weight="bold" font-style="normal" textLength="4.4" lengthAdjust="spacingAndGlyphs" stroke="#2a2a2a" stroke-width="0.12">6</text>
<text x="189.38" y="480.97" font-size="8.8" text-anchor="middle" fill="#2a2a2a" font-weight="bold" font-style="normal" textLength="4.4" lengthAdjust="spacingAndGlyphs" stroke="#2a2a2a" stroke-width="0.12">7</text>
<text x="200.55" y="480.97" font-size="8.8" text-anchor="middle" fill="#2a2a2a" font-weight="bold" font-style="normal" textLength="4.4" lengthAdjust="spacingAndGlyphs" stroke="#2a2a2a" stroke-width="0.12">8</text>
<text x="211.73" y="480.97" font-size="8.8" text-anchor="middle" fill="#2a2a2a" font-weight="bold" font-style="normal" textLength="4.4" lengthAdjust="spacingAndGlyphs" stroke="#2a2a2a" stroke-width="0.12">9</text>
<text x="222.9" y="480.97" font-size="8.8" text-anchor="middle" fill="#2a2a2a" font-weight="bold" font-style="normal" textLength="8.81" lengthAdjust="spacingAndGlyphs" stroke="#2a2a2a" stroke-width="0.12">10</text>
<text x="234.07" y="480.97" font-size="8.8" text-anchor="middle" fill="#2a2a2a" font-weight="bold" font-style="normal" textLength="8.37" lengthAdjust="spacingAndGlyphs" stroke="#2a2a2a" stroke-width="0.12">11</text>
<text x="245.25" y="480.97" font-size="8.8" text-anchor="middle" fill="#2a2a2a" font-weight="bold" font-style="normal" textLength="8.81" lengthAdjust="spacingAndGlyphs" stroke="#2a2a2a" stroke-width="0.12">12</text>
<text x="256.43" y="480.97" font-size="8.8" text-anchor="middle" fill="#2a2a2a" font-weight="bold" font-style="normal" textLength="8.81" lengthAdjust="spacingAndGlyphs" stroke="#2a2a2a" stroke-width="0.12">13</text>
<text x="267.6" y="480.97" font-size="8.8" text-anchor="middle" fill="#2a2a2a" font-weight="bold" font-style="normal" textLength="8.81" lengthAdjust="spacingAndGlyphs" stroke="#2a2a2a" stroke-width="0.12">14</text>
<text x="278.78" y="480.97" font-size="8.8" text-anchor="middle" fill="#2a2a2a" font-weight="bold" font-style="normal" textLength="8.81" lengthAdjust="spacingAndGlyphs" stroke="#2a2a2a" stroke-width="0.12">15</text>
<text x="289.95" y="480.97" font-size="8.8" text-anchor="middle" fill="#2a2a2a" font-weight="bold" font-style="normal" textLength="8.81" lengthAdjust="spacingAndGlyphs" stroke="#2a2a2a" stroke-width="0.12">16</text>
<text x="301.12" y="480.97" font-size="8.8" text-anchor="middle" fill="#2a2a2a" font-weight="bold" font-style="normal" textLength="8.81" lengthAdjust="spacingAndGlyphs" stroke="#2a2a2a" stroke-width="0.12">17</text>
<text x="312.3" y="480.97" font-size="8.8" text-anchor="middle" fill="#2a2a2a" font-weight="bold" font-style="normal" textLength="8.81" lengthAdjust="spacingAndGlyphs" stroke="#2a2a2a" stroke-width="0.12">18</text>
<text x="323.48" y="480.97" font-size="8.8" text-anchor="middle" fill="#2a2a2a" font-weight="bold" font-style="normal" textLength="8.81" lengthAdjust="spacingAndGlyphs" stroke="#2a2a2a" stroke-width="0.12">19</text>
<text x="334.65" y="480.97" font-size="8.8" text-anchor="middle" fill="#2a2a2a" font-weight="bold" font-style="normal" textLength="8.81" lengthAdjust="spacingAndGlyphs" stroke="#2a2a2a" stroke-width="0.12">20</text>
<text x="345.83" y="480.97" font-size="8.8" text-anchor="middle" fill="#2a2a2a" font-weight="bold" font-style="normal" textLength="8.81" lengthAdjust="spacingAndGlyphs" stroke="#2a2a2a" stroke-width="0.12">21</text>
<text x="357" y="480.97" font-size="8.8" text-anchor="middle" fill="#2a2a2a" font-weight="bold" font-style="normal" textLength="8.81" lengthAdjust="spacingAndGlyphs" stroke="#2a2a2a" stroke-width="0.12">22</text>
<text x="368.18" y="480.97" font-size="8.8" text-anchor="middle" fill="#2a2a2a" font-weight="bold" font-style="normal" textLength="8.81" lengthAdjust="spacingAndGlyphs" stroke="#2a2a2a" stroke-width="0.12">23</text>
<text x="379.35" y="480.97" font-size="8.8" text-anchor="middle" fill="#2a2a2a" font-weight="bold" font-style="normal" textLength="8.81" lengthAdjust="spacingAndGlyphs" stroke="#2a2a2a" stroke-width="0.12">24</text>
<text x="390.53" y="480.97" font-size="8.8" text-anchor="middle" fill="#2a2a2a" font-weight="bold" font-style="normal" textLength="8.81" lengthAdjust="spacingAndGlyphs" stroke="#2a2a2a" stroke-width="0.12">25</text>
<text x="401.7" y="480.97" font-size="8.8" text-anchor="middle" fill="#2a2a2a" font-weight="bold" font-style="normal" textLength="8.81" lengthAdjust="spacingAndGlyphs" stroke="#2a2a2a" stroke-width="0.12">26</text>
<text x="412.88" y="480.97" font-size="8.8" text-anchor="middle" fill="#2a2a2a" font-weight="bold" font-style="normal" textLength="8.81" lengthAdjust="spacingAndGlyphs" stroke="#2a2a2a" stroke-width="0.12">27</text>
<text x="424.05" y="480.97" font-size="8.8" text-anchor="middle" fill="#2a2a2a" font-weight="bold" font-style="normal" textLength="8.81" lengthAdjust="spacingAndGlyphs" stroke="#2a2a2a" stroke-width="0.12">28</text>
<text x="435.23" y="480.97" font-size="8.8" text-anchor="middle" fill="#2a2a2a" font-weight="bold" font-style="normal" textLength="8.81" lengthAdjust="spacingAndGlyphs" stroke="#2a2a2a" stroke-width="0.12">29</text>
<text x="446.4" y="480.97" font-size="8.8" text-anchor="middle" fill="#2a2a2a" font-weight="bold" font-style="normal" textLength="8.81" lengthAdjust="spacingAndGlyphs" stroke="#2a2a2a" stroke-width="0.12">30</text>
<text x="457.58" y="480.97" font-size="8.8" text-anchor="middle" fill="#2a2a2a" font-weight="bold" font-style="normal" textLength="8.81" lengthAdjust="spacingAndGlyphs" stroke="#2a2a2a" stroke-width="0.12">31</text>
<text x="468.75" y="480.97" font-size="8.8" text-anchor="middle" fill="#2a2a2a" font-weight="bold" font-style="normal" textLength="8.81" lengthAdjust="spacingAndGlyphs" stroke="#2a2a2a" stroke-width="0.12">32</text>
<text x="479.93" y="480.97" font-size="8.8" text-anchor="middle" fill="#2a2a2a" font-weight="bold" font-style="normal" textLength="8.81" lengthAdjust="spacingAndGlyphs" stroke="#2a2a2a" stroke-width="0.12">33</text>
<text x="491.1" y="480.97" font-size="8.8" text-anchor="middle" fill="#2a2a2a" font-weight="bold" font-style="normal" textLength="8.81" lengthAdjust="spacingAndGlyphs" stroke="#2a2a2a" stroke-width="0.12">34</text>
<text x="502.28" y="480.97" font-size="8.8" text-anchor="middle" fill="#2a2a2a" font-weight="bold" font-style="normal" textLength="8.81" lengthAdjust="spacingAndGlyphs" stroke="#2a2a2a" stroke-width="0.12">35</text>
<text x="513.45" y="480.97" font-size="8.8" text-anchor="middle" fill="#2a2a2a" font-weight="bold" font-style="normal" textLength="8.81" lengthAdjust="spacingAndGlyphs" stroke="#2a2a2a" stroke-width="0.12">36</text>
<text x="524.62" y="480.97" font-size="8.8" text-anchor="middle" fill="#2a2a2a" font-weight="bold" font-style="normal" textLength="8.81" lengthAdjust="spacingAndGlyphs" stroke="#2a2a2a" stroke-width="0.12">37</text>
<text x="535.8" y="480.97" font-size="8.8" text-anchor="middle" fill="#2a2a2a" font-weight="bold" font-style="normal" textLength="8.81" lengthAdjust="spacingAndGlyphs" stroke="#2a2a2a" stroke-width="0.12">38</text>
<line x1="88.8" y1="460.5" x2="88.8" y2="464" stroke="#111" stroke-width="1.1"/>
<polygon points="85.8,463.5 91.8,463.5 88.8,469.8" fill="#111"/>
<line x1="122.33" y1="460.5" x2="122.33" y2="464" stroke="#111" stroke-width="1.1"/>
<polygon points="119.33,463.5 125.33,463.5 122.33,469.8" fill="#111"/>
<line x1="167.03" y1="460.5" x2="167.03" y2="464" stroke="#111" stroke-width="1.1"/>
<polygon points="164.03,463.5 170.03,463.5 167.03,469.8" fill="#111"/>
<line x1="234.07" y1="460.5" x2="234.07" y2="464" stroke="#111" stroke-width="1.1"/>
<polygon points="231.07,463.5 237.07,463.5 234.07,469.8" fill="#111"/>
<text x="84.6" y="450.8" font-size="6.95" text-anchor="start" fill="#2a2a2a" font-weight="bold" font-style="normal" textLength="26.1" lengthAdjust="spacingAndGlyphs" stroke="#2a2a2a" stroke-width="0.12">Disease</text>
<text x="84.6" y="459.6" font-size="6.95" text-anchor="start" fill="#2a2a2a" font-weight="bold" font-style="normal" textLength="18.8" lengthAdjust="spacingAndGlyphs" stroke="#2a2a2a" stroke-width="0.12">onset</text>
<text x="114.4" y="455.58" font-size="6.9" text-anchor="start" fill="#2a2a2a" font-weight="bold" font-style="normal" textLength="35.1" lengthAdjust="spacingAndGlyphs" stroke="#2a2a2a" stroke-width="0.12">Admission</text>
<text x="152.2" y="438.02" font-size="7" text-anchor="start" fill="#2a2a2a" font-weight="bold" font-style="italic" textLength="21" lengthAdjust="spacingAndGlyphs" stroke="#2a2a2a" stroke-width="0.12">BALF:</text>
<text x="152.2" y="447.16" font-size="7.1" text-anchor="start" fill="#2a2a2a" font-weight="bold" font-style="italic" textLength="77.5" lengthAdjust="spacingAndGlyphs" stroke="#2a2a2a" stroke-width="0.12">Leptospira interrogans</text>
<text x="152.2" y="456.36" font-size="7.1" text-anchor="start" fill="#2a2a2a" font-weight="bold" font-style="italic" textLength="73.5" lengthAdjust="spacingAndGlyphs" stroke="#2a2a2a" stroke-width="0.12">Aspergillus chevalieri</text>
<text x="233" y="447.12" font-size="7" text-anchor="start" fill="#2a2a2a" font-weight="bold" font-style="normal" textLength="21" lengthAdjust="spacingAndGlyphs" stroke="#2a2a2a" stroke-width="0.12">BALF:</text>
<text x="233.4" y="456.32" font-size="7" text-anchor="start" fill="#2a2a2a" font-weight="bold" font-style="italic" textLength="74.9" lengthAdjust="spacingAndGlyphs" stroke="#2a2a2a" stroke-width="0.12">Enterococcus faecium</text>
<line x1="84.6" y1="428.9" x2="543" y2="428.9" stroke="#1a1a1a" stroke-width="1.25" stroke-dasharray="1.5,2.65"/>
<g clip-path="url(#cbU)">
<polyline points="122.33,346.1 133.5,351.3 144.68,372.7 155.85,373.4 167.03,365.7 178.2,372.7 189.38,372.7 200.55,373.5 211.73,363.5 222.9,368.6 234.07,369.3 245.25,371.2 256.43,369.3 267.6,369.3 278.78,370.1 289.95,367.6 301.12,377 312.3,379.2 323.48,374 334.65,372.6 345.83,370 357,374 368.18,373.3 379.35,371 412.88,370.9 446.4,373 479.93,373 502.28,375 535.8,369" fill="none" stroke="#2aa070" stroke-width="1" stroke-linejoin="round"/>
<circle cx="122.33" cy="346.1" r="1.2" fill="#128050"/>
<circle cx="133.5" cy="351.3" r="1.2" fill="#128050"/>
<circle cx="144.68" cy="372.7" r="1.2" fill="#128050"/>
<circle cx="155.85" cy="373.4" r="1.2" fill="#128050"/>
<circle cx="167.03" cy="365.7" r="1.2" fill="#128050"/>
<circle cx="178.2" cy="372.7" r="1.2" fill="#128050"/>
<circle cx="189.38" cy="372.7" r="1.2" fill="#128050"/>
<circle cx="200.55" cy="373.5" r="1.2" fill="#128050"/>
<circle cx="211.73" cy="363.5" r="1.2" fill="#128050"/>
<circle cx="222.9" cy="368.6" r="1.2" fill="#128050"/>
<circle cx="234.07" cy="369.3" r="1.2" fill="#128050"/>
<circle cx="245.25" cy="371.2" r="1.2" fill="#128050"/>
<circle cx="256.43" cy="369.3" r="1.2" fill="#128050"/>
<circle cx="267.6" cy="369.3" r="1.2" fill="#128050"/>
<circle cx="278.78" cy="370.1" r="1.2" fill="#128050"/>
<circle cx="289.95" cy="367.6" r="1.2" fill="#128050"/>
<circle cx="301.12" cy="377" r="1.2" fill="#128050"/>
<circle cx="312.3" cy="379.2" r="1.2" fill="#128050"/>
<circle cx="323.48" cy="374" r="1.2" fill="#128050"/>
<circle cx="334.65" cy="372.6" r="1.2" fill="#128050"/>
<circle cx="345.83" cy="370" r="1.2" fill="#128050"/>
<circle cx="357" cy="374" r="1.2" fill="#128050"/>
<circle cx="368.18" cy="373.3" r="1.2" fill="#128050"/>
<circle cx="379.35" cy="371" r="1.2" fill="#128050"/>
<circle cx="412.88" cy="370.9" r="1.2" fill="#128050"/>
<circle cx="446.4" cy="373" r="1.2" fill="#128050"/>
<circle cx="479.93" cy="373" r="1.2" fill="#128050"/>
<circle cx="502.28" cy="375" r="1.2" fill="#128050"/>
<circle cx="535.8" cy="369" r="1.2" fill="#128050"/>
</g>
<g clip-path="url(#cbU)">
<polyline points="122.33,422.5 133.5,351.3 144.68,397.8 155.85,401 167.03,403.3 178.2,381.5 189.38,339.1 200.55,346.5 211.73,341.6 222.9,340.1 234.07,339.6 245.25,328.7 256.43,331.2 267.6,328.2 278.78,333.3 289.95,334.5 301.12,335.7 312.3,336.2 323.48,342.3 334.65,334.7 345.83,337.3 357,335.5 368.18,334 379.35,336.8 412.88,334.8 446.4,308.7 479.93,283.1 502.28,261.8 535.8,249.5" fill="none" stroke="#e8489e" stroke-width="1" stroke-linejoin="round"/>
<circle cx="122.33" cy="422.5" r="1.2" fill="#c82078"/>
<circle cx="133.5" cy="351.3" r="1.2" fill="#c82078"/>
<circle cx="144.68" cy="397.8" r="1.2" fill="#c82078"/>
<circle cx="155.85" cy="401" r="1.2" fill="#c82078"/>
<circle cx="167.03" cy="403.3" r="1.2" fill="#c82078"/>
<circle cx="178.2" cy="381.5" r="1.2" fill="#c82078"/>
<circle cx="189.38" cy="339.1" r="1.2" fill="#c82078"/>
<circle cx="200.55" cy="346.5" r="1.2" fill="#c82078"/>
<circle cx="211.73" cy="341.6" r="1.2" fill="#c82078"/>
<circle cx="222.9" cy="340.1" r="1.2" fill="#c82078"/>
<circle cx="234.07" cy="339.6" r="1.2" fill="#c82078"/>
<circle cx="245.25" cy="328.7" r="1.2" fill="#c82078"/>
<circle cx="256.43" cy="331.2" r="1.2" fill="#c82078"/>
<circle cx="267.6" cy="328.2" r="1.2" fill="#c82078"/>
<circle cx="278.78" cy="333.3" r="1.2" fill="#c82078"/>
<circle cx="289.95" cy="334.5" r="1.2" fill="#c82078"/>
<circle cx="301.12" cy="335.7" r="1.2" fill="#c82078"/>
<circle cx="312.3" cy="336.2" r="1.2" fill="#c82078"/>
<circle cx="323.48" cy="342.3" r="1.2" fill="#c82078"/>
<circle cx="334.65" cy="334.7" r="1.2" fill="#c82078"/>
<circle cx="345.83" cy="337.3" r="1.2" fill="#c82078"/>
<circle cx="357" cy="335.5" r="1.2" fill="#c82078"/>
<circle cx="368.18" cy="334" r="1.2" fill="#c82078"/>
<circle cx="379.35" cy="336.8" r="1.2" fill="#c82078"/>
<circle cx="412.88" cy="334.8" r="1.2" fill="#c82078"/>
<circle cx="446.4" cy="308.7" r="1.2" fill="#c82078"/>
<circle cx="479.93" cy="283.1" r="1.2" fill="#c82078"/>
<circle cx="502.28" cy="261.8" r="1.2" fill="#c82078"/>
<circle cx="535.8" cy="249.5" r="1.2" fill="#c82078"/>
</g>
<g clip-path="url(#cbU)">
<polyline points="122.33,256.5 133.5,280.6 155.85,341.7 167.03,390.6 178.2,403.3 189.38,397.8 200.55,377.5 211.73,384.7 222.9,352.7 234.07,323 245.25,308.6 256.43,317.5 267.6,326.9 278.78,341 289.95,364.3 301.12,373.2 312.3,387 323.48,389.6 334.65,394.7 345.83,390.3 357,394.4 368.18,390.3" fill="none" stroke="#ff6a3a" stroke-width="1" stroke-linejoin="round"/>
<circle cx="122.33" cy="256.5" r="1.3" fill="#f0501a"/>
<circle cx="133.5" cy="280.6" r="1.3" fill="#f0501a"/>
<circle cx="155.85" cy="341.7" r="1.3" fill="#f0501a"/>
<circle cx="167.03" cy="390.6" r="1.3" fill="#f0501a"/>
<circle cx="178.2" cy="403.3" r="1.3" fill="#f0501a"/>
<circle cx="189.38" cy="397.8" r="1.3" fill="#f0501a"/>
<circle cx="200.55" cy="377.5" r="1.3" fill="#f0501a"/>
<circle cx="211.73" cy="384.7" r="1.3" fill="#f0501a"/>
<circle cx="222.9" cy="352.7" r="1.3" fill="#f0501a"/>
<circle cx="234.07" cy="323" r="1.3" fill="#f0501a"/>
<circle cx="245.25" cy="308.6" r="1.3" fill="#f0501a"/>
<circle cx="256.43" cy="317.5" r="1.3" fill="#f0501a"/>
<circle cx="267.6" cy="326.9" r="1.3" fill="#f0501a"/>
<circle cx="278.78" cy="341" r="1.3" fill="#f0501a"/>
<circle cx="289.95" cy="364.3" r="1.3" fill="#f0501a"/>
<circle cx="301.12" cy="373.2" r="1.3" fill="#f0501a"/>
<circle cx="312.3" cy="387" r="1.3" fill="#f0501a"/>
<circle cx="323.48" cy="389.6" r="1.3" fill="#f0501a"/>
<circle cx="334.65" cy="394.7" r="1.3" fill="#f0501a"/>
<circle cx="345.83" cy="390.3" r="1.3" fill="#f0501a"/>
<circle cx="357" cy="394.4" r="1.3" fill="#f0501a"/>
<circle cx="368.18" cy="390.3" r="1.3" fill="#f0501a"/>
</g>
<g clip-path="url(#cbU)">
<polyline points="122.33,397.8 133.5,378.2 144.68,393.5 155.85,407.6 167.03,417.5 178.2,421.5 189.38,424.4 200.55,425.5 211.73,426.6 222.9,427.3 234.07,427.3 245.25,427.4 256.43,427.7 267.6,427.8 278.78,428.2 289.95,428.4 301.12,428.5 312.3,428.6 323.48,428.7 334.65,428.7 345.83,428.8 357,428.8 368.18,428.8 412.88,428.8" fill="none" stroke="#d84a24" stroke-width="1.1" stroke-linejoin="round"/>
<circle cx="122.33" cy="397.8" r="1.5" fill="#c83a14"/>
<circle cx="133.5" cy="378.2" r="1.5" fill="#c83a14"/>
<circle cx="144.68" cy="393.5" r="1.5" fill="#c83a14"/>
<circle cx="155.85" cy="407.6" r="1.5" fill="#c83a14"/>
<circle cx="167.03" cy="417.5" r="1.5" fill="#c83a14"/>
<circle cx="178.2" cy="421.5" r="1.5" fill="#c83a14"/>
<circle cx="189.38" cy="424.4" r="1.5" fill="#c83a14"/>
<circle cx="200.55" cy="425.5" r="1.5" fill="#c83a14"/>
<circle cx="211.73" cy="426.6" r="1.5" fill="#c83a14"/>
<circle cx="222.9" cy="427.3" r="1.5" fill="#c83a14"/>
<circle cx="234.07" cy="427.3" r="1.5" fill="#c83a14"/>
<circle cx="245.25" cy="427.4" r="1.5" fill="#c83a14"/>
<circle cx="256.43" cy="427.7" r="1.5" fill="#c83a14"/>
<circle cx="267.6" cy="427.8" r="1.5" fill="#c83a14"/>
<circle cx="278.78" cy="428.2" r="1.5" fill="#c83a14"/>
<circle cx="289.95" cy="428.4" r="1.5" fill="#c83a14"/>
<circle cx="301.12" cy="428.5" r="1.5" fill="#c83a14"/>
<circle cx="312.3" cy="428.6" r="1.5" fill="#c83a14"/>
<circle cx="323.48" cy="428.7" r="1.5" fill="#c83a14"/>
<circle cx="334.65" cy="428.7" r="1.5" fill="#c83a14"/>
<circle cx="345.83" cy="428.8" r="1.5" fill="#c83a14"/>
<circle cx="357" cy="428.8" r="1.5" fill="#c83a14"/>
<circle cx="368.18" cy="428.8" r="1.5" fill="#c83a14"/>
<circle cx="412.88" cy="428.8" r="1.5" fill="#c83a14"/>
</g>
<g clip-path="url(#cbU)">
<polyline points="122.33,418 133.5,417.5 144.68,423 155.85,426.2 167.03,419.6 178.2,415.3 189.38,406.8 200.55,408.5 211.73,410.7 222.9,414.5 234.07,416.2 245.25,416.8 256.43,419 267.6,421 278.78,422.2 289.95,423.3 301.12,423.9 312.3,424.4 323.48,424.8 334.65,425 345.83,425.2 357,425.4 368.18,425.6 379.35,425.6 412.88,425.6 446.4,424.9 479.93,423.5 502.28,421.9 535.8,420" fill="none" stroke="#6055c0" stroke-width="1.25" stroke-linejoin="round"/>
<circle cx="122.33" cy="418" r="1.2" fill="#4a40a8"/>
<circle cx="133.5" cy="417.5" r="1.2" fill="#4a40a8"/>
<circle cx="144.68" cy="423" r="1.2" fill="#4a40a8"/>
<circle cx="155.85" cy="426.2" r="1.2" fill="#4a40a8"/>
<circle cx="167.03" cy="419.6" r="1.2" fill="#4a40a8"/>
<circle cx="178.2" cy="415.3" r="1.2" fill="#4a40a8"/>
<circle cx="189.38" cy="406.8" r="1.2" fill="#4a40a8"/>
<circle cx="200.55" cy="408.5" r="1.2" fill="#4a40a8"/>
<circle cx="211.73" cy="410.7" r="1.2" fill="#4a40a8"/>
<circle cx="222.9" cy="414.5" r="1.2" fill="#4a40a8"/>
<circle cx="234.07" cy="416.2" r="1.2" fill="#4a40a8"/>
<circle cx="245.25" cy="416.8" r="1.2" fill="#4a40a8"/>
<circle cx="256.43" cy="419" r="1.2" fill="#4a40a8"/>
<circle cx="267.6" cy="421" r="1.2" fill="#4a40a8"/>
<circle cx="278.78" cy="422.2" r="1.2" fill="#4a40a8"/>
<circle cx="289.95" cy="423.3" r="1.2" fill="#4a40a8"/>
<circle cx="301.12" cy="423.9" r="1.2" fill="#4a40a8"/>
<circle cx="312.3" cy="424.4" r="1.2" fill="#4a40a8"/>
<circle cx="323.48" cy="424.8" r="1.2" fill="#4a40a8"/>
<circle cx="334.65" cy="425" r="1.2" fill="#4a40a8"/>
<circle cx="345.83" cy="425.2" r="1.2" fill="#4a40a8"/>
<circle cx="357" cy="425.4" r="1.2" fill="#4a40a8"/>
<circle cx="368.18" cy="425.6" r="1.2" fill="#4a40a8"/>
<circle cx="379.35" cy="425.6" r="1.2" fill="#4a40a8"/>
<circle cx="412.88" cy="425.6" r="1.2" fill="#4a40a8"/>
<circle cx="446.4" cy="424.9" r="1.2" fill="#4a40a8"/>
<circle cx="479.93" cy="423.5" r="1.2" fill="#4a40a8"/>
<circle cx="502.28" cy="421.9" r="1.2" fill="#4a40a8"/>
<circle cx="535.8" cy="420" r="1.2" fill="#4a40a8"/>
</g>
<g clip-path="url(#cbU)">
<polyline points="122.33,418.6 133.5,418.2 144.68,423.6 155.85,426.6 167.03,420.4 178.2,416.5 189.38,408.2 200.55,409.8 211.73,412 222.9,415.6 234.07,417.2 245.25,417.8 256.43,419.9 267.6,421.8 278.78,423 289.95,424 301.12,424.6 312.3,425 323.48,425.4 334.65,425.6 345.83,425.8 357,426 368.18,426.2 379.35,426.2 412.88,426.6 446.4,426.8 479.93,425.4 502.28,424 535.8,422.7" fill="none" stroke="#3c3a80" stroke-width="1.1" stroke-linejoin="round"/>
<rect x="121.23" y="417.5" width="2.2" height="2.2" fill="#30306a"/>
<rect x="132.4" y="417.1" width="2.2" height="2.2" fill="#30306a"/>
<rect x="143.58" y="422.5" width="2.2" height="2.2" fill="#30306a"/>
<rect x="154.75" y="425.5" width="2.2" height="2.2" fill="#30306a"/>
<rect x="165.93" y="419.3" width="2.2" height="2.2" fill="#30306a"/>
<rect x="177.1" y="415.4" width="2.2" height="2.2" fill="#30306a"/>
<rect x="188.28" y="407.1" width="2.2" height="2.2" fill="#30306a"/>
<rect x="199.45" y="408.7" width="2.2" height="2.2" fill="#30306a"/>
<rect x="210.63" y="410.9" width="2.2" height="2.2" fill="#30306a"/>
<rect x="221.8" y="414.5" width="2.2" height="2.2" fill="#30306a"/>
<rect x="232.97" y="416.1" width="2.2" height="2.2" fill="#30306a"/>
<rect x="244.15" y="416.7" width="2.2" height="2.2" fill="#30306a"/>
<rect x="255.33" y="418.8" width="2.2" height="2.2" fill="#30306a"/>
<rect x="266.5" y="420.7" width="2.2" height="2.2" fill="#30306a"/>
<rect x="277.68" y="421.9" width="2.2" height="2.2" fill="#30306a"/>
<rect x="288.85" y="422.9" width="2.2" height="2.2" fill="#30306a"/>
<rect x="300.02" y="423.5" width="2.2" height="2.2" fill="#30306a"/>
<rect x="311.2" y="423.9" width="2.2" height="2.2" fill="#30306a"/>
<rect x="322.38" y="424.3" width="2.2" height="2.2" fill="#30306a"/>
<rect x="333.55" y="424.5" width="2.2" height="2.2" fill="#30306a"/>
<rect x="344.73" y="424.7" width="2.2" height="2.2" fill="#30306a"/>
<rect x="355.9" y="424.9" width="2.2" height="2.2" fill="#30306a"/>
<rect x="367.07" y="425.1" width="2.2" height="2.2" fill="#30306a"/>
<rect x="378.25" y="425.1" width="2.2" height="2.2" fill="#30306a"/>
<rect x="411.78" y="425.5" width="2.2" height="2.2" fill="#30306a"/>
<rect x="445.3" y="425.7" width="2.2" height="2.2" fill="#30306a"/>
<rect x="478.82" y="424.3" width="2.2" height="2.2" fill="#30306a"/>
<rect x="501.18" y="422.9" width="2.2" height="2.2" fill="#30306a"/>
<rect x="534.7" y="421.6" width="2.2" height="2.2" fill="#30306a"/>
</g>
<g clip-path="url(#cbL)">
<polyline points="122.33,346.1 133.5,351.3 144.68,372.7 155.85,373.4 167.03,365.7 178.2,372.7 189.38,372.7 200.55,373.5 211.73,363.5 222.9,368.6 234.07,369.3 245.25,371.2 256.43,369.3 267.6,369.3 278.78,370.1 289.95,367.6 301.12,377 312.3,379.2 323.48,374 334.65,372.6 345.83,370 357,374 368.18,373.3 379.35,371 412.88,370.9 446.4,373 479.93,373 502.28,375 535.8,369" fill="none" stroke="#2aa070" stroke-width="1" stroke-linejoin="round"/>
<circle cx="122.33" cy="346.1" r="1.2" fill="#128050"/>
<circle cx="133.5" cy="351.3" r="1.2" fill="#128050"/>
<circle cx="144.68" cy="372.7" r="1.2" fill="#128050"/>
<circle cx="155.85" cy="373.4" r="1.2" fill="#128050"/>
<circle cx="167.03" cy="365.7" r="1.2" fill="#128050"/>
<circle cx="178.2" cy="372.7" r="1.2" fill="#128050"/>
<circle cx="189.38" cy="372.7" r="1.2" fill="#128050"/>
<circle cx="200.55" cy="373.5" r="1.2" fill="#128050"/>
<circle cx="211.73" cy="363.5" r="1.2" fill="#128050"/>
<circle cx="222.9" cy="368.6" r="1.2" fill="#128050"/>
<circle cx="234.07" cy="369.3" r="1.2" fill="#128050"/>
<circle cx="245.25" cy="371.2" r="1.2" fill="#128050"/>
<circle cx="256.43" cy="369.3" r="1.2" fill="#128050"/>
<circle cx="267.6" cy="369.3" r="1.2" fill="#128050"/>
<circle cx="278.78" cy="370.1" r="1.2" fill="#128050"/>
<circle cx="289.95" cy="367.6" r="1.2" fill="#128050"/>
<circle cx="301.12" cy="377" r="1.2" fill="#128050"/>
<circle cx="312.3" cy="379.2" r="1.2" fill="#128050"/>
<circle cx="323.48" cy="374" r="1.2" fill="#128050"/>
<circle cx="334.65" cy="372.6" r="1.2" fill="#128050"/>
<circle cx="345.83" cy="370" r="1.2" fill="#128050"/>
<circle cx="357" cy="374" r="1.2" fill="#128050"/>
<circle cx="368.18" cy="373.3" r="1.2" fill="#128050"/>
<circle cx="379.35" cy="371" r="1.2" fill="#128050"/>
<circle cx="412.88" cy="370.9" r="1.2" fill="#128050"/>
<circle cx="446.4" cy="373" r="1.2" fill="#128050"/>
<circle cx="479.93" cy="373" r="1.2" fill="#128050"/>
<circle cx="502.28" cy="375" r="1.2" fill="#128050"/>
<circle cx="535.8" cy="369" r="1.2" fill="#128050"/>
</g>
<g clip-path="url(#cbL)">
<polyline points="122.33,422.5 133.5,351.3 144.68,397.8 155.85,401 167.03,403.3 178.2,381.5 189.38,339.1 200.55,346.5 211.73,341.6 222.9,340.1 234.07,339.6 245.25,328.7 256.43,331.2 267.6,328.2 278.78,333.3 289.95,334.5 301.12,335.7 312.3,336.2 323.48,342.3 334.65,334.7 345.83,337.3 357,335.5 368.18,334 379.35,336.8 412.88,334.8 446.4,308.7 479.93,283.1 502.28,261.8 535.8,249.5" fill="none" stroke="#e8489e" stroke-width="1" stroke-linejoin="round"/>
<circle cx="122.33" cy="422.5" r="1.2" fill="#c82078"/>
<circle cx="133.5" cy="351.3" r="1.2" fill="#c82078"/>
<circle cx="144.68" cy="397.8" r="1.2" fill="#c82078"/>
<circle cx="155.85" cy="401" r="1.2" fill="#c82078"/>
<circle cx="167.03" cy="403.3" r="1.2" fill="#c82078"/>
<circle cx="178.2" cy="381.5" r="1.2" fill="#c82078"/>
<circle cx="189.38" cy="339.1" r="1.2" fill="#c82078"/>
<circle cx="200.55" cy="346.5" r="1.2" fill="#c82078"/>
<circle cx="211.73" cy="341.6" r="1.2" fill="#c82078"/>
<circle cx="222.9" cy="340.1" r="1.2" fill="#c82078"/>
<circle cx="234.07" cy="339.6" r="1.2" fill="#c82078"/>
<circle cx="245.25" cy="328.7" r="1.2" fill="#c82078"/>
<circle cx="256.43" cy="331.2" r="1.2" fill="#c82078"/>
<circle cx="267.6" cy="328.2" r="1.2" fill="#c82078"/>
<circle cx="278.78" cy="333.3" r="1.2" fill="#c82078"/>
<circle cx="289.95" cy="334.5" r="1.2" fill="#c82078"/>
<circle cx="301.12" cy="335.7" r="1.2" fill="#c82078"/>
<circle cx="312.3" cy="336.2" r="1.2" fill="#c82078"/>
<circle cx="323.48" cy="342.3" r="1.2" fill="#c82078"/>
<circle cx="334.65" cy="334.7" r="1.2" fill="#c82078"/>
<circle cx="345.83" cy="337.3" r="1.2" fill="#c82078"/>
<circle cx="357" cy="335.5" r="1.2" fill="#c82078"/>
<circle cx="368.18" cy="334" r="1.2" fill="#c82078"/>
<circle cx="379.35" cy="336.8" r="1.2" fill="#c82078"/>
<circle cx="412.88" cy="334.8" r="1.2" fill="#c82078"/>
<circle cx="446.4" cy="308.7" r="1.2" fill="#c82078"/>
<circle cx="479.93" cy="283.1" r="1.2" fill="#c82078"/>
<circle cx="502.28" cy="261.8" r="1.2" fill="#c82078"/>
<circle cx="535.8" cy="249.5" r="1.2" fill="#c82078"/>
</g>
<g clip-path="url(#cbL)">
<polyline points="122.33,256.5 133.5,280.6 155.85,341.7 167.03,390.6 178.2,403.3 189.38,397.8 200.55,377.5 211.73,384.7 222.9,352.7 234.07,323 245.25,308.6 256.43,317.5 267.6,326.9 278.78,341 289.95,364.3 301.12,373.2 312.3,387 323.48,389.6 334.65,394.7 345.83,390.3 357,394.4 368.18,390.3" fill="none" stroke="#ff6a3a" stroke-width="1" stroke-linejoin="round"/>
<circle cx="122.33" cy="256.5" r="1.3" fill="#f0501a"/>
<circle cx="133.5" cy="280.6" r="1.3" fill="#f0501a"/>
<circle cx="155.85" cy="341.7" r="1.3" fill="#f0501a"/>
<circle cx="167.03" cy="390.6" r="1.3" fill="#f0501a"/>
<circle cx="178.2" cy="403.3" r="1.3" fill="#f0501a"/>
<circle cx="189.38" cy="397.8" r="1.3" fill="#f0501a"/>
<circle cx="200.55" cy="377.5" r="1.3" fill="#f0501a"/>
<circle cx="211.73" cy="384.7" r="1.3" fill="#f0501a"/>
<circle cx="222.9" cy="352.7" r="1.3" fill="#f0501a"/>
<circle cx="234.07" cy="323" r="1.3" fill="#f0501a"/>
<circle cx="245.25" cy="308.6" r="1.3" fill="#f0501a"/>
<circle cx="256.43" cy="317.5" r="1.3" fill="#f0501a"/>
<circle cx="267.6" cy="326.9" r="1.3" fill="#f0501a"/>
<circle cx="278.78" cy="341" r="1.3" fill="#f0501a"/>
<circle cx="289.95" cy="364.3" r="1.3" fill="#f0501a"/>
<circle cx="301.12" cy="373.2" r="1.3" fill="#f0501a"/>
<circle cx="312.3" cy="387" r="1.3" fill="#f0501a"/>
<circle cx="323.48" cy="389.6" r="1.3" fill="#f0501a"/>
<circle cx="334.65" cy="394.7" r="1.3" fill="#f0501a"/>
<circle cx="345.83" cy="390.3" r="1.3" fill="#f0501a"/>
<circle cx="357" cy="394.4" r="1.3" fill="#f0501a"/>
<circle cx="368.18" cy="390.3" r="1.3" fill="#f0501a"/>
</g>
<g clip-path="url(#cbL)">
<polyline points="122.33,397.8 133.5,378.2 144.68,393.5 155.85,407.6 167.03,417.5 178.2,421.5 189.38,424.4 200.55,425.5 211.73,426.6 222.9,427.3 234.07,427.3 245.25,427.4 256.43,427.7 267.6,427.8 278.78,428.2 289.95,428.4 301.12,428.5 312.3,428.6 323.48,428.7 334.65,428.7 345.83,428.8 357,428.8 368.18,428.8 412.88,428.8" fill="none" stroke="#d84a24" stroke-width="1.1" stroke-linejoin="round"/>
<circle cx="122.33" cy="397.8" r="1.5" fill="#c83a14"/>
<circle cx="133.5" cy="378.2" r="1.5" fill="#c83a14"/>
<circle cx="144.68" cy="393.5" r="1.5" fill="#c83a14"/>
<circle cx="155.85" cy="407.6" r="1.5" fill="#c83a14"/>
<circle cx="167.03" cy="417.5" r="1.5" fill="#c83a14"/>
<circle cx="178.2" cy="421.5" r="1.5" fill="#c83a14"/>
<circle cx="189.38" cy="424.4" r="1.5" fill="#c83a14"/>
<circle cx="200.55" cy="425.5" r="1.5" fill="#c83a14"/>
<circle cx="211.73" cy="426.6" r="1.5" fill="#c83a14"/>
<circle cx="222.9" cy="427.3" r="1.5" fill="#c83a14"/>
<circle cx="234.07" cy="427.3" r="1.5" fill="#c83a14"/>
<circle cx="245.25" cy="427.4" r="1.5" fill="#c83a14"/>
<circle cx="256.43" cy="427.7" r="1.5" fill="#c83a14"/>
<circle cx="267.6" cy="427.8" r="1.5" fill="#c83a14"/>
<circle cx="278.78" cy="428.2" r="1.5" fill="#c83a14"/>
<circle cx="289.95" cy="428.4" r="1.5" fill="#c83a14"/>
<circle cx="301.12" cy="428.5" r="1.5" fill="#c83a14"/>
<circle cx="312.3" cy="428.6" r="1.5" fill="#c83a14"/>
<circle cx="323.48" cy="428.7" r="1.5" fill="#c83a14"/>
<circle cx="334.65" cy="428.7" r="1.5" fill="#c83a14"/>
<circle cx="345.83" cy="428.8" r="1.5" fill="#c83a14"/>
<circle cx="357" cy="428.8" r="1.5" fill="#c83a14"/>
<circle cx="368.18" cy="428.8" r="1.5" fill="#c83a14"/>
<circle cx="412.88" cy="428.8" r="1.5" fill="#c83a14"/>
</g>
<g clip-path="url(#cbL)">
<polyline points="122.33,418 133.5,417.5 144.68,423 155.85,426.2 167.03,419.6 178.2,415.3 189.38,406.8 200.55,408.5 211.73,410.7 222.9,414.5 234.07,416.2 245.25,416.8 256.43,419 267.6,421 278.78,422.2 289.95,423.3 301.12,423.9 312.3,424.4 323.48,424.8 334.65,425 345.83,425.2 357,425.4 368.18,425.6 379.35,425.6 412.88,425.6 446.4,424.9 479.93,423.5 502.28,421.9 535.8,420" fill="none" stroke="#6055c0" stroke-width="1.25" stroke-linejoin="round"/>
<circle cx="122.33" cy="418" r="1.2" fill="#4a40a8"/>
<circle cx="133.5" cy="417.5" r="1.2" fill="#4a40a8"/>
<circle cx="144.68" cy="423" r="1.2" fill="#4a40a8"/>
<circle cx="155.85" cy="426.2" r="1.2" fill="#4a40a8"/>
<circle cx="167.03" cy="419.6" r="1.2" fill="#4a40a8"/>
<circle cx="178.2" cy="415.3" r="1.2" fill="#4a40a8"/>
<circle cx="189.38" cy="406.8" r="1.2" fill="#4a40a8"/>
<circle cx="200.55" cy="408.5" r="1.2" fill="#4a40a8"/>
<circle cx="211.73" cy="410.7" r="1.2" fill="#4a40a8"/>
<circle cx="222.9" cy="414.5" r="1.2" fill="#4a40a8"/>
<circle cx="234.07" cy="416.2" r="1.2" fill="#4a40a8"/>
<circle cx="245.25" cy="416.8" r="1.2" fill="#4a40a8"/>
<circle cx="256.43" cy="419" r="1.2" fill="#4a40a8"/>
<circle cx="267.6" cy="421" r="1.2" fill="#4a40a8"/>
<circle cx="278.78" cy="422.2" r="1.2" fill="#4a40a8"/>
<circle cx="289.95" cy="423.3" r="1.2" fill="#4a40a8"/>
<circle cx="301.12" cy="423.9" r="1.2" fill="#4a40a8"/>
<circle cx="312.3" cy="424.4" r="1.2" fill="#4a40a8"/>
<circle cx="323.48" cy="424.8" r="1.2" fill="#4a40a8"/>
<circle cx="334.65" cy="425" r="1.2" fill="#4a40a8"/>
<circle cx="345.83" cy="425.2" r="1.2" fill="#4a40a8"/>
<circle cx="357" cy="425.4" r="1.2" fill="#4a40a8"/>
<circle cx="368.18" cy="425.6" r="1.2" fill="#4a40a8"/>
<circle cx="379.35" cy="425.6" r="1.2" fill="#4a40a8"/>
<circle cx="412.88" cy="425.6" r="1.2" fill="#4a40a8"/>
<circle cx="446.4" cy="424.9" r="1.2" fill="#4a40a8"/>
<circle cx="479.93" cy="423.5" r="1.2" fill="#4a40a8"/>
<circle cx="502.28" cy="421.9" r="1.2" fill="#4a40a8"/>
<circle cx="535.8" cy="420" r="1.2" fill="#4a40a8"/>
</g>
<g clip-path="url(#cbL)">
<polyline points="122.33,418.6 133.5,418.2 144.68,423.6 155.85,426.6 167.03,420.4 178.2,416.5 189.38,408.2 200.55,409.8 211.73,412 222.9,415.6 234.07,417.2 245.25,417.8 256.43,419.9 267.6,421.8 278.78,423 289.95,424 301.12,424.6 312.3,425 323.48,425.4 334.65,425.6 345.83,425.8 357,426 368.18,426.2 379.35,426.2 412.88,426.6 446.4,426.8 479.93,425.4 502.28,424 535.8,422.7" fill="none" stroke="#3c3a80" stroke-width="1.1" stroke-linejoin="round"/>
<rect x="121.23" y="417.5" width="2.2" height="2.2" fill="#30306a"/>
<rect x="132.4" y="417.1" width="2.2" height="2.2" fill="#30306a"/>
<rect x="143.58" y="422.5" width="2.2" height="2.2" fill="#30306a"/>
<rect x="154.75" y="425.5" width="2.2" height="2.2" fill="#30306a"/>
<rect x="165.93" y="419.3" width="2.2" height="2.2" fill="#30306a"/>
<rect x="177.1" y="415.4" width="2.2" height="2.2" fill="#30306a"/>
<rect x="188.28" y="407.1" width="2.2" height="2.2" fill="#30306a"/>
<rect x="199.45" y="408.7" width="2.2" height="2.2" fill="#30306a"/>
<rect x="210.63" y="410.9" width="2.2" height="2.2" fill="#30306a"/>
<rect x="221.8" y="414.5" width="2.2" height="2.2" fill="#30306a"/>
<rect x="232.97" y="416.1" width="2.2" height="2.2" fill="#30306a"/>
<rect x="244.15" y="416.7" width="2.2" height="2.2" fill="#30306a"/>
<rect x="255.33" y="418.8" width="2.2" height="2.2" fill="#30306a"/>
<rect x="266.5" y="420.7" width="2.2" height="2.2" fill="#30306a"/>
<rect x="277.68" y="421.9" width="2.2" height="2.2" fill="#30306a"/>
<rect x="288.85" y="422.9" width="2.2" height="2.2" fill="#30306a"/>
<rect x="300.02" y="423.5" width="2.2" height="2.2" fill="#30306a"/>
<rect x="311.2" y="423.9" width="2.2" height="2.2" fill="#30306a"/>
<rect x="322.38" y="424.3" width="2.2" height="2.2" fill="#30306a"/>
<rect x="333.55" y="424.5" width="2.2" height="2.2" fill="#30306a"/>
<rect x="344.73" y="424.7" width="2.2" height="2.2" fill="#30306a"/>
<rect x="355.9" y="424.9" width="2.2" height="2.2" fill="#30306a"/>
<rect x="367.07" y="425.1" width="2.2" height="2.2" fill="#30306a"/>
<rect x="378.25" y="425.1" width="2.2" height="2.2" fill="#30306a"/>
<rect x="411.78" y="425.5" width="2.2" height="2.2" fill="#30306a"/>
<rect x="445.3" y="425.7" width="2.2" height="2.2" fill="#30306a"/>
<rect x="478.82" y="424.3" width="2.2" height="2.2" fill="#30306a"/>
<rect x="501.18" y="422.9" width="2.2" height="2.2" fill="#30306a"/>
<rect x="534.7" y="421.6" width="2.2" height="2.2" fill="#30306a"/>
</g>
<line x1="181" y1="260.5" x2="195.6" y2="260.5" stroke="#d84a24" stroke-width="0.85" stroke-opacity="0.8"/>
<circle cx="188.3" cy="260.5" r="1.55" fill="#c83a14"/>
<text x="204" y="263.28" font-size="8" text-anchor="start" fill="#2a2a2a" font-weight="bold" font-style="normal" textLength="44" lengthAdjust="spacingAndGlyphs" stroke="#2a2a2a" stroke-width="0.1">PCT (ng/ml)</text>
<line x1="181" y1="276.9" x2="195.6" y2="276.9" stroke="#ff6a3a" stroke-width="0.85" stroke-opacity="0.8"/>
<circle cx="188.3" cy="276.9" r="1.55" fill="#f0501a"/>
<text x="204" y="279.68" font-size="8" text-anchor="start" fill="#2a2a2a" font-weight="bold" font-style="normal" textLength="43" lengthAdjust="spacingAndGlyphs" stroke="#2a2a2a" stroke-width="0.1">CRP (mg/L)</text>
<line x1="291.3" y1="261.6" x2="307" y2="261.6" stroke="#3c3a80" stroke-width="0.85" stroke-opacity="0.8"/>
<circle cx="299.15" cy="261.6" r="1.55" fill="#30306a"/>
<text x="314.5" y="265.28" font-size="8" text-anchor="start" fill="#2a2a2a" font-weight="bold" font-style="normal" textLength="48.2" lengthAdjust="spacingAndGlyphs" stroke="#2a2a2a" stroke-width="0.1">Neut (x10<tspan font-size="5" dy="-2.6">9</tspan><tspan dy="2.6">/L)</tspan></text>
<line x1="291.3" y1="275.2" x2="307" y2="275.2" stroke="#6055c0" stroke-width="0.85" stroke-opacity="0.8"/>
<circle cx="299.15" cy="275.2" r="1.55" fill="#4a40a8"/>
<text x="314.5" y="278.78" font-size="8" text-anchor="start" fill="#2a2a2a" font-weight="bold" font-style="normal" textLength="49.5" lengthAdjust="spacingAndGlyphs" stroke="#2a2a2a" stroke-width="0.1">WBC (x10<tspan font-size="5" dy="-2.6">9</tspan><tspan dy="2.6">/L)</tspan></text>
<line x1="291.3" y1="288.8" x2="307" y2="288.8" stroke="#e8489e" stroke-width="0.85" stroke-opacity="0.8"/>
<circle cx="299.15" cy="288.8" r="1.55" fill="#c82078"/>
<text x="314.5" y="292.08" font-size="8" text-anchor="start" fill="#2a2a2a" font-weight="bold" font-style="normal" textLength="44.5" lengthAdjust="spacingAndGlyphs" stroke="#2a2a2a" stroke-width="0.1">PLT (x10<tspan font-size="5" dy="-2.6">9</tspan><tspan dy="2.6">/L)</tspan></text>
<line x1="291.3" y1="301.8" x2="307" y2="301.8" stroke="#2aa070" stroke-width="0.85" stroke-opacity="0.8"/>
<circle cx="299.15" cy="301.8" r="1.55" fill="#128050"/>
<text x="314.5" y="304.48" font-size="8" text-anchor="start" fill="#2a2a2a" font-weight="bold" font-style="normal" textLength="30.5" lengthAdjust="spacingAndGlyphs" stroke="#2a2a2a" stroke-width="0.1">Hb (g/L)</text>
<text x="38.1" y="502.31" font-size="12.8" text-anchor="start" fill="#111" font-weight="bold" font-style="normal" textLength="8.7" lengthAdjust="spacingAndGlyphs" stroke="#111" stroke-width="0.9">C</text>
<rect x="81.6" y="492.7" width="462.3" height="191.5" fill="none" stroke="#6a6a6a" stroke-width="1.2"/>
<line x1="77" y1="572.41" x2="81.6" y2="572.41" stroke="#484848" stroke-width="1"/>
<text x="75" y="575.29" font-size="8" text-anchor="end" fill="#2a2a2a" font-weight="bold" font-style="normal" textLength="11.21" lengthAdjust="spacingAndGlyphs" stroke="#2a2a2a" stroke-width="0.3">150</text>
<line x1="77" y1="561.02" x2="81.6" y2="561.02" stroke="#484848" stroke-width="1"/>
<text x="75" y="563.9" font-size="8" text-anchor="end" fill="#2a2a2a" font-weight="bold" font-style="normal" textLength="11.21" lengthAdjust="spacingAndGlyphs" stroke="#2a2a2a" stroke-width="0.3">250</text>
<line x1="77" y1="549.63" x2="81.6" y2="549.63" stroke="#484848" stroke-width="1"/>
<text x="75" y="552.51" font-size="8" text-anchor="end" fill="#2a2a2a" font-weight="bold" font-style="normal" textLength="11.21" lengthAdjust="spacingAndGlyphs" stroke="#2a2a2a" stroke-width="0.3">350</text>
<line x1="77" y1="538.24" x2="81.6" y2="538.24" stroke="#484848" stroke-width="1"/>
<text x="75" y="541.12" font-size="8" text-anchor="end" fill="#2a2a2a" font-weight="bold" font-style="normal" textLength="11.21" lengthAdjust="spacingAndGlyphs" stroke="#2a2a2a" stroke-width="0.3">450</text>
<line x1="77" y1="526.85" x2="81.6" y2="526.85" stroke="#484848" stroke-width="1"/>
<text x="75" y="529.73" font-size="8" text-anchor="end" fill="#2a2a2a" font-weight="bold" font-style="normal" textLength="11.21" lengthAdjust="spacingAndGlyphs" stroke="#2a2a2a" stroke-width="0.3">550</text>
<line x1="77" y1="515.46" x2="81.6" y2="515.46" stroke="#484848" stroke-width="1"/>
<text x="75" y="518.34" font-size="8" text-anchor="end" fill="#2a2a2a" font-weight="bold" font-style="normal" textLength="11.21" lengthAdjust="spacingAndGlyphs" stroke="#2a2a2a" stroke-width="0.3">650</text>
<line x1="77" y1="504.07" x2="81.6" y2="504.07" stroke="#484848" stroke-width="1"/>
<text x="75" y="506.95" font-size="8" text-anchor="end" fill="#2a2a2a" font-weight="bold" font-style="normal" textLength="11.21" lengthAdjust="spacingAndGlyphs" stroke="#2a2a2a" stroke-width="0.3">750</text>
<line x1="77" y1="492.68" x2="81.6" y2="492.68" stroke="#484848" stroke-width="1"/>
<text x="75" y="495.56" font-size="8" text-anchor="end" fill="#2a2a2a" font-weight="bold" font-style="normal" textLength="11.21" lengthAdjust="spacingAndGlyphs" stroke="#2a2a2a" stroke-width="0.3">850</text>
<text x="75" y="586.98" font-size="8" text-anchor="end" fill="#2a2a2a" font-weight="bold" font-style="normal" textLength="7.47" lengthAdjust="spacingAndGlyphs" stroke="#2a2a2a" stroke-width="0.3">50</text>
<text x="75" y="596.28" font-size="8" text-anchor="end" fill="#2a2a2a" font-weight="bold" font-style="normal" textLength="7.47" lengthAdjust="spacingAndGlyphs" stroke="#2a2a2a" stroke-width="0.3">50</text>
<line x1="77" y1="684.2" x2="81.6" y2="684.2" stroke="#484848" stroke-width="1"/>
<text x="75" y="687.08" font-size="8" text-anchor="end" fill="#2a2a2a" font-weight="bold" font-style="normal" textLength="9.71" lengthAdjust="spacingAndGlyphs" stroke="#2a2a2a" stroke-width="0.3">-30</text>
<line x1="77" y1="672.9" x2="81.6" y2="672.9" stroke="#484848" stroke-width="1"/>
<text x="75" y="675.78" font-size="8" text-anchor="end" fill="#2a2a2a" font-weight="bold" font-style="normal" textLength="9.71" lengthAdjust="spacingAndGlyphs" stroke="#2a2a2a" stroke-width="0.3">-20</text>
<line x1="77" y1="661.6" x2="81.6" y2="661.6" stroke="#484848" stroke-width="1"/>
<text x="75" y="664.48" font-size="8" text-anchor="end" fill="#2a2a2a" font-weight="bold" font-style="normal" textLength="9.71" lengthAdjust="spacingAndGlyphs" stroke="#2a2a2a" stroke-width="0.3">-10</text>
<line x1="77" y1="650.3" x2="81.6" y2="650.3" stroke="#484848" stroke-width="1"/>
<text x="75" y="653.18" font-size="8" text-anchor="end" fill="#2a2a2a" font-weight="bold" font-style="normal" textLength="3.74" lengthAdjust="spacingAndGlyphs" stroke="#2a2a2a" stroke-width="0.3">0</text>
<line x1="77" y1="639" x2="81.6" y2="639" stroke="#484848" stroke-width="1"/>
<text x="75" y="641.88" font-size="8" text-anchor="end" fill="#2a2a2a" font-weight="bold" font-style="normal" textLength="7.47" lengthAdjust="spacingAndGlyphs" stroke="#2a2a2a" stroke-width="0.3">10</text>
<line x1="77" y1="627.7" x2="81.6" y2="627.7" stroke="#484848" stroke-width="1"/>
<text x="75" y="630.58" font-size="8" text-anchor="end" fill="#2a2a2a" font-weight="bold" font-style="normal" textLength="7.47" lengthAdjust="spacingAndGlyphs" stroke="#2a2a2a" stroke-width="0.3">20</text>
<line x1="77" y1="616.4" x2="81.6" y2="616.4" stroke="#484848" stroke-width="1"/>
<text x="75" y="619.28" font-size="8" text-anchor="end" fill="#2a2a2a" font-weight="bold" font-style="normal" textLength="7.47" lengthAdjust="spacingAndGlyphs" stroke="#2a2a2a" stroke-width="0.3">30</text>
<line x1="77" y1="605.1" x2="81.6" y2="605.1" stroke="#484848" stroke-width="1"/>
<text x="75" y="607.98" font-size="8" text-anchor="end" fill="#2a2a2a" font-weight="bold" font-style="normal" textLength="7.47" lengthAdjust="spacingAndGlyphs" stroke="#2a2a2a" stroke-width="0.3">40</text>
<rect x="79.5" y="581.8" width="4" height="13.7" fill="#fff"/>
<line x1="78.8" y1="581.2" x2="85.5" y2="587.3" stroke="#444" stroke-width="1"/>
<line x1="78.8" y1="589.5" x2="85.5" y2="596.4" stroke="#444" stroke-width="1"/>
<line x1="88.8" y1="684.2" x2="88.8" y2="689.5" stroke="#484848" stroke-width="0.9"/>
<line x1="99.97" y1="684.2" x2="99.97" y2="689.5" stroke="#484848" stroke-width="0.9"/>
<line x1="111.15" y1="684.2" x2="111.15" y2="689.5" stroke="#484848" stroke-width="0.9"/>
<line x1="122.33" y1="684.2" x2="122.33" y2="689.5" stroke="#484848" stroke-width="0.9"/>
<line x1="133.5" y1="684.2" x2="133.5" y2="689.5" stroke="#484848" stroke-width="0.9"/>
<line x1="144.68" y1="684.2" x2="144.68" y2="689.5" stroke="#484848" stroke-width="0.9"/>
<line x1="155.85" y1="684.2" x2="155.85" y2="689.5" stroke="#484848" stroke-width="0.9"/>
<line x1="167.03" y1="684.2" x2="167.03" y2="689.5" stroke="#484848" stroke-width="0.9"/>
<line x1="178.2" y1="684.2" x2="178.2" y2="689.5" stroke="#484848" stroke-width="0.9"/>
<line x1="189.38" y1="684.2" x2="189.38" y2="689.5" stroke="#484848" stroke-width="0.9"/>
<line x1="200.55" y1="684.2" x2="200.55" y2="689.5" stroke="#484848" stroke-width="0.9"/>
<line x1="211.73" y1="684.2" x2="211.73" y2="689.5" stroke="#484848" stroke-width="0.9"/>
<line x1="222.9" y1="684.2" x2="222.9" y2="689.5" stroke="#484848" stroke-width="0.9"/>
<line x1="234.07" y1="684.2" x2="234.07" y2="689.5" stroke="#484848" stroke-width="0.9"/>
<line x1="245.25" y1="684.2" x2="245.25" y2="689.5" stroke="#484848" stroke-width="0.9"/>
<line x1="256.43" y1="684.2" x2="256.43" y2="689.5" stroke="#484848" stroke-width="0.9"/>
<line x1="267.6" y1="684.2" x2="267.6" y2="689.5" stroke="#484848" stroke-width="0.9"/>
<line x1="278.78" y1="684.2" x2="278.78" y2="689.5" stroke="#484848" stroke-width="0.9"/>
<line x1="289.95" y1="684.2" x2="289.95" y2="689.5" stroke="#484848" stroke-width="0.9"/>
<line x1="301.12" y1="684.2" x2="301.12" y2="689.5" stroke="#484848" stroke-width="0.9"/>
<line x1="312.3" y1="684.2" x2="312.3" y2="689.5" stroke="#484848" stroke-width="0.9"/>
<line x1="323.48" y1="684.2" x2="323.48" y2="689.5" stroke="#484848" stroke-width="0.9"/>
<line x1="334.65" y1="684.2" x2="334.65" y2="689.5" stroke="#484848" stroke-width="0.9"/>
<line x1="345.83" y1="684.2" x2="345.83" y2="689.5" stroke="#484848" stroke-width="0.9"/>
<line x1="357" y1="684.2" x2="357" y2="689.5" stroke="#484848" stroke-width="0.9"/>
<line x1="368.18" y1="684.2" x2="368.18" y2="689.5" stroke="#484848" stroke-width="0.9"/>
<line x1="379.35" y1="684.2" x2="379.35" y2="689.5" stroke="#484848" stroke-width="0.9"/>
<line x1="390.53" y1="684.2" x2="390.53" y2="689.5" stroke="#484848" stroke-width="0.9"/>
<line x1="401.7" y1="684.2" x2="401.7" y2="689.5" stroke="#484848" stroke-width="0.9"/>
<line x1="412.88" y1="684.2" x2="412.88" y2="689.5" stroke="#484848" stroke-width="0.9"/>
<line x1="424.05" y1="684.2" x2="424.05" y2="689.5" stroke="#484848" stroke-width="0.9"/>
<line x1="435.23" y1="684.2" x2="435.23" y2="689.5" stroke="#484848" stroke-width="0.9"/>
<line x1="446.4" y1="684.2" x2="446.4" y2="689.5" stroke="#484848" stroke-width="0.9"/>
<line x1="457.58" y1="684.2" x2="457.58" y2="689.5" stroke="#484848" stroke-width="0.9"/>
<line x1="468.75" y1="684.2" x2="468.75" y2="689.5" stroke="#484848" stroke-width="0.9"/>
<line x1="479.93" y1="684.2" x2="479.93" y2="689.5" stroke="#484848" stroke-width="0.9"/>
<line x1="491.1" y1="684.2" x2="491.1" y2="689.5" stroke="#484848" stroke-width="0.9"/>
<line x1="502.28" y1="684.2" x2="502.28" y2="689.5" stroke="#484848" stroke-width="0.9"/>
<line x1="513.45" y1="684.2" x2="513.45" y2="689.5" stroke="#484848" stroke-width="0.9"/>
<line x1="524.62" y1="684.2" x2="524.62" y2="689.5" stroke="#484848" stroke-width="0.9"/>
<line x1="535.8" y1="684.2" x2="535.8" y2="689.5" stroke="#484848" stroke-width="0.9"/>
<text x="88.8" y="698.87" font-size="8.8" text-anchor="middle" fill="#2a2a2a" font-weight="bold" font-style="normal" textLength="4.4" lengthAdjust="spacingAndGlyphs" stroke="#2a2a2a" stroke-width="0.12">3</text>
<line x1="80.8" y1="696" x2="84.8" y2="696" stroke="#8a8a8a" stroke-width="0.8"/>
<text x="99.97" y="698.87" font-size="8.8" text-anchor="middle" fill="#2a2a2a" font-weight="bold" font-style="normal" textLength="4.4" lengthAdjust="spacingAndGlyphs" stroke="#2a2a2a" stroke-width="0.12">2</text>
<line x1="91.97" y1="696" x2="95.97" y2="696" stroke="#8a8a8a" stroke-width="0.8"/>
<text x="111.15" y="698.87" font-size="8.8" text-anchor="middle" fill="#2a2a2a" font-weight="bold" font-style="normal" textLength="4.4" lengthAdjust="spacingAndGlyphs" stroke="#2a2a2a" stroke-width="0.12">1</text>
<line x1="103.15" y1="696" x2="107.15" y2="696" stroke="#8a8a8a" stroke-width="0.8"/>
<text x="122.33" y="698.87" font-size="8.8" text-anchor="middle" fill="#2a2a2a" font-weight="bold" font-style="normal" textLength="4.4" lengthAdjust="spacingAndGlyphs" stroke="#2a2a2a" stroke-width="0.12">1</text>
<text x="133.5" y="698.87" font-size="8.8" text-anchor="middle" fill="#2a2a2a" font-weight="bold" font-style="normal" textLength="4.4" lengthAdjust="spacingAndGlyphs" stroke="#2a2a2a" stroke-width="0.12">2</text>
<text x="144.68" y="698.87" font-size="8.8" text-anchor="middle" fill="#2a2a2a" font-weight="bold" font-style="normal" textLength="4.4" lengthAdjust="spacingAndGlyphs" stroke="#2a2a2a" stroke-width="0.12">3</text>
<text x="155.85" y="698.87" font-size="8.8" text-anchor="middle" fill="#2a2a2a" font-weight="bold" font-style="normal" textLength="4.4" lengthAdjust="spacingAndGlyphs" stroke="#2a2a2a" stroke-width="0.12">4</text>
<text x="167.03" y="698.87" font-size="8.8" text-anchor="middle" fill="#2a2a2a" font-weight="bold" font-style="normal" textLength="4.4" lengthAdjust="spacingAndGlyphs" stroke="#2a2a2a" stroke-width="0.12">5</text>
<text x="178.2" y="698.87" font-size="8.8" text-anchor="middle" fill="#2a2a2a" font-weight="bold" font-style="normal" textLength="4.4" lengthAdjust="spacingAndGlyphs" stroke="#2a2a2a" stroke-width="0.12">6</text>
<text x="189.38" y="698.87" font-size="8.8" text-anchor="middle" fill="#2a2a2a" font-weight="bold" font-style="normal" textLength="4.4" lengthAdjust="spacingAndGlyphs" stroke="#2a2a2a" stroke-width="0.12">7</text>
<text x="200.55" y="698.87" font-size="8.8" text-anchor="middle" fill="#2a2a2a" font-weight="bold" font-style="normal" textLength="4.4" lengthAdjust="spacingAndGlyphs" stroke="#2a2a2a" stroke-width="0.12">8</text>
<text x="211.73" y="698.87" font-size="8.8" text-anchor="middle" fill="#2a2a2a" font-weight="bold" font-style="normal" textLength="4.4" lengthAdjust="spacingAndGlyphs" stroke="#2a2a2a" stroke-width="0.12">9</text>
<text x="222.9" y="698.87" font-size="8.8" text-anchor="middle" fill="#2a2a2a" font-weight="bold" font-style="normal" textLength="8.81" lengthAdjust="spacingAndGlyphs" stroke="#2a2a2a" stroke-width="0.12">10</text>
<text x="234.07" y="698.87" font-size="8.8" text-anchor="middle" fill="#2a2a2a" font-weight="bold" font-style="normal" textLength="8.37" lengthAdjust="spacingAndGlyphs" stroke="#2a2a2a" stroke-width="0.12">11</text>
<text x="245.25" y="698.87" font-size="8.8" text-anchor="middle" fill="#2a2a2a" font-weight="bold" font-style="normal" textLength="8.81" lengthAdjust="spacingAndGlyphs" stroke="#2a2a2a" stroke-width="0.12">12</text>
<text x="256.43" y="698.87" font-size="8.8" text-anchor="middle" fill="#2a2a2a" font-weight="bold" font-style="normal" textLength="8.81" lengthAdjust="spacingAndGlyphs" stroke="#2a2a2a" stroke-width="0.12">13</text>
<text x="267.6" y="698.87" font-size="8.8" text-anchor="middle" fill="#2a2a2a" font-weight="bold" font-style="normal" textLength="8.81" lengthAdjust="spacingAndGlyphs" stroke="#2a2a2a" stroke-width="0.12">14</text>
<text x="278.78" y="698.87" font-size="8.8" text-anchor="middle" fill="#2a2a2a" font-weight="bold" font-style="normal" textLength="8.81" lengthAdjust="spacingAndGlyphs" stroke="#2a2a2a" stroke-width="0.12">15</text>
<text x="289.95" y="698.87" font-size="8.8" text-anchor="middle" fill="#2a2a2a" font-weight="bold" font-style="normal" textLength="8.81" lengthAdjust="spacingAndGlyphs" stroke="#2a2a2a" stroke-width="0.12">16</text>
<text x="301.12" y="698.87" font-size="8.8" text-anchor="middle" fill="#2a2a2a" font-weight="bold" font-style="normal" textLength="8.81" lengthAdjust="spacingAndGlyphs" stroke="#2a2a2a" stroke-width="0.12">17</text>
<text x="312.3" y="698.87" font-size="8.8" text-anchor="middle" fill="#2a2a2a" font-weight="bold" font-style="normal" textLength="8.81" lengthAdjust="spacingAndGlyphs" stroke="#2a2a2a" stroke-width="0.12">18</text>
<text x="323.48" y="698.87" font-size="8.8" text-anchor="middle" fill="#2a2a2a" font-weight="bold" font-style="normal" textLength="8.81" lengthAdjust="spacingAndGlyphs" stroke="#2a2a2a" stroke-width="0.12">19</text>
<text x="334.65" y="698.87" font-size="8.8" text-anchor="middle" fill="#2a2a2a" font-weight="bold" font-style="normal" textLength="8.81" lengthAdjust="spacingAndGlyphs" stroke="#2a2a2a" stroke-width="0.12">20</text>
<text x="345.83" y="698.87" font-size="8.8" text-anchor="middle" fill="#2a2a2a" font-weight="bold" font-style="normal" textLength="8.81" lengthAdjust="spacingAndGlyphs" stroke="#2a2a2a" stroke-width="0.12">21</text>
<text x="357" y="698.87" font-size="8.8" text-anchor="middle" fill="#2a2a2a" font-weight="bold" font-style="normal" textLength="8.81" lengthAdjust="spacingAndGlyphs" stroke="#2a2a2a" stroke-width="0.12">22</text>
<text x="368.18" y="698.87" font-size="8.8" text-anchor="middle" fill="#2a2a2a" font-weight="bold" font-style="normal" textLength="8.81" lengthAdjust="spacingAndGlyphs" stroke="#2a2a2a" stroke-width="0.12">23</text>
<text x="379.35" y="698.87" font-size="8.8" text-anchor="middle" fill="#2a2a2a" font-weight="bold" font-style="normal" textLength="8.81" lengthAdjust="spacingAndGlyphs" stroke="#2a2a2a" stroke-width="0.12">24</text>
<text x="390.53" y="698.87" font-size="8.8" text-anchor="middle" fill="#2a2a2a" font-weight="bold" font-style="normal" textLength="8.81" lengthAdjust="spacingAndGlyphs" stroke="#2a2a2a" stroke-width="0.12">25</text>
<text x="401.7" y="698.87" font-size="8.8" text-anchor="middle" fill="#2a2a2a" font-weight="bold" font-style="normal" textLength="8.81" lengthAdjust="spacingAndGlyphs" stroke="#2a2a2a" stroke-width="0.12">26</text>
<text x="412.88" y="698.87" font-size="8.8" text-anchor="middle" fill="#2a2a2a" font-weight="bold" font-style="normal" textLength="8.81" lengthAdjust="spacingAndGlyphs" stroke="#2a2a2a" stroke-width="0.12">27</text>
<text x="424.05" y="698.87" font-size="8.8" text-anchor="middle" fill="#2a2a2a" font-weight="bold" font-style="normal" textLength="8.81" lengthAdjust="spacingAndGlyphs" stroke="#2a2a2a" stroke-width="0.12">28</text>
<text x="435.23" y="698.87" font-size="8.8" text-anchor="middle" fill="#2a2a2a" font-weight="bold" font-style="normal" textLength="8.81" lengthAdjust="spacingAndGlyphs" stroke="#2a2a2a" stroke-width="0.12">29</text>
<text x="446.4" y="698.87" font-size="8.8" text-anchor="middle" fill="#2a2a2a" font-weight="bold" font-style="normal" textLength="8.81" lengthAdjust="spacingAndGlyphs" stroke="#2a2a2a" stroke-width="0.12">30</text>
<text x="457.58" y="698.87" font-size="8.8" text-anchor="middle" fill="#2a2a2a" font-weight="bold" font-style="normal" textLength="8.81" lengthAdjust="spacingAndGlyphs" stroke="#2a2a2a" stroke-width="0.12">31</text>
<text x="468.75" y="698.87" font-size="8.8" text-anchor="middle" fill="#2a2a2a" font-weight="bold" font-style="normal" textLength="8.81" lengthAdjust="spacingAndGlyphs" stroke="#2a2a2a" stroke-width="0.12">32</text>
<text x="479.93" y="698.87" font-size="8.8" text-anchor="middle" fill="#2a2a2a" font-weight="bold" font-style="normal" textLength="8.81" lengthAdjust="spacingAndGlyphs" stroke="#2a2a2a" stroke-width="0.12">33</text>
<text x="491.1" y="698.87" font-size="8.8" text-anchor="middle" fill="#2a2a2a" font-weight="bold" font-style="normal" textLength="8.81" lengthAdjust="spacingAndGlyphs" stroke="#2a2a2a" stroke-width="0.12">34</text>
<text x="502.28" y="698.87" font-size="8.8" text-anchor="middle" fill="#2a2a2a" font-weight="bold" font-style="normal" textLength="8.81" lengthAdjust="spacingAndGlyphs" stroke="#2a2a2a" stroke-width="0.12">35</text>
<text x="513.45" y="698.87" font-size="8.8" text-anchor="middle" fill="#2a2a2a" font-weight="bold" font-style="normal" textLength="8.81" lengthAdjust="spacingAndGlyphs" stroke="#2a2a2a" stroke-width="0.12">36</text>
<text x="524.62" y="698.87" font-size="8.8" text-anchor="middle" fill="#2a2a2a" font-weight="bold" font-style="normal" textLength="8.81" lengthAdjust="spacingAndGlyphs" stroke="#2a2a2a" stroke-width="0.12">37</text>
<text x="535.8" y="698.87" font-size="8.8" text-anchor="middle" fill="#2a2a2a" font-weight="bold" font-style="normal" textLength="8.81" lengthAdjust="spacingAndGlyphs" stroke="#2a2a2a" stroke-width="0.12">38</text>
<line x1="88.8" y1="674.8" x2="88.8" y2="678.3" stroke="#111" stroke-width="1.1"/>
<polygon points="85.8,677.8 91.8,677.8 88.8,684.1" fill="#111"/>
<line x1="122.33" y1="674.8" x2="122.33" y2="678.3" stroke="#111" stroke-width="1.1"/>
<polygon points="119.33,677.8 125.33,677.8 122.33,684.1" fill="#111"/>
<line x1="167.03" y1="674.8" x2="167.03" y2="678.3" stroke="#111" stroke-width="1.1"/>
<polygon points="164.03,677.8 170.03,677.8 167.03,684.1" fill="#111"/>
<line x1="234.07" y1="674.8" x2="234.07" y2="678.3" stroke="#111" stroke-width="1.1"/>
<polygon points="231.07,677.8 237.07,677.8 234.07,684.1" fill="#111"/>
<text x="84.6" y="668.1" font-size="6.95" text-anchor="start" fill="#2a2a2a" font-weight="bold" font-style="normal" textLength="26.1" lengthAdjust="spacingAndGlyphs" stroke="#2a2a2a" stroke-width="0.12">Disease</text>
<text x="84.6" y="675.7" font-size="6.95" text-anchor="start" fill="#2a2a2a" font-weight="bold" font-style="normal" textLength="18.8" lengthAdjust="spacingAndGlyphs" stroke="#2a2a2a" stroke-width="0.12">onset</text>
<text x="114.4" y="671.98" font-size="6.9" text-anchor="start" fill="#2a2a2a" font-weight="bold" font-style="normal" textLength="35.1" lengthAdjust="spacingAndGlyphs" stroke="#2a2a2a" stroke-width="0.12">Admission</text>
<text x="152.2" y="657.12" font-size="7" text-anchor="start" fill="#2a2a2a" font-weight="bold" font-style="italic" textLength="21" lengthAdjust="spacingAndGlyphs" stroke="#2a2a2a" stroke-width="0.12">BALF:</text>
<text x="152.2" y="665.76" font-size="7.1" text-anchor="start" fill="#2a2a2a" font-weight="bold" font-style="italic" textLength="77.5" lengthAdjust="spacingAndGlyphs" stroke="#2a2a2a" stroke-width="0.12">Leptospira interrogans</text>
<text x="152.2" y="673.56" font-size="7.1" text-anchor="start" fill="#2a2a2a" font-weight="bold" font-style="italic" textLength="73.5" lengthAdjust="spacingAndGlyphs" stroke="#2a2a2a" stroke-width="0.12">Aspergillus chevalieri</text>
<text x="233" y="665.72" font-size="7" text-anchor="start" fill="#2a2a2a" font-weight="bold" font-style="normal" textLength="21" lengthAdjust="spacingAndGlyphs" stroke="#2a2a2a" stroke-width="0.12">BALF:</text>
<text x="233.4" y="673.52" font-size="7" text-anchor="start" fill="#2a2a2a" font-weight="bold" font-style="italic" textLength="74.9" lengthAdjust="spacingAndGlyphs" stroke="#2a2a2a" stroke-width="0.12">Enterococcus faecium</text>
<line x1="84.6" y1="650.3" x2="543" y2="650.3" stroke="#1a1a1a" stroke-width="1.25" stroke-dasharray="1.5,2.65"/>
<g clip-path="url(#ccU)">
<polyline points="122.33,578 133.5,568.8 144.68,563.2 155.85,555.2 167.03,548 178.2,548.8 189.38,554 200.55,550.4 211.73,544 222.9,541.2 234.07,560 245.25,544 256.43,560 267.6,552 278.78,553.2 289.95,546.2 301.12,542.9 312.3,546.8 323.48,540.3 334.65,557.6 368.18,544.5" fill="none" stroke="#22a06c" stroke-width="1" stroke-linejoin="round"/>
<circle cx="122.33" cy="578" r="1.2" fill="#108050"/>
<circle cx="133.5" cy="568.8" r="1.2" fill="#108050"/>
<circle cx="144.68" cy="563.2" r="1.2" fill="#108050"/>
<circle cx="155.85" cy="555.2" r="1.2" fill="#108050"/>
<circle cx="167.03" cy="548" r="1.2" fill="#108050"/>
<circle cx="178.2" cy="548.8" r="1.2" fill="#108050"/>
<circle cx="189.38" cy="554" r="1.2" fill="#108050"/>
<circle cx="200.55" cy="550.4" r="1.2" fill="#108050"/>
<circle cx="211.73" cy="544" r="1.2" fill="#108050"/>
<circle cx="222.9" cy="541.2" r="1.2" fill="#108050"/>
<circle cx="234.07" cy="560" r="1.2" fill="#108050"/>
<circle cx="245.25" cy="544" r="1.2" fill="#108050"/>
<circle cx="256.43" cy="560" r="1.2" fill="#108050"/>
<circle cx="267.6" cy="552" r="1.2" fill="#108050"/>
<circle cx="278.78" cy="553.2" r="1.2" fill="#108050"/>
<circle cx="289.95" cy="546.2" r="1.2" fill="#108050"/>
<circle cx="301.12" cy="542.9" r="1.2" fill="#108050"/>
<circle cx="312.3" cy="546.8" r="1.2" fill="#108050"/>
<circle cx="323.48" cy="540.3" r="1.2" fill="#108050"/>
<circle cx="334.65" cy="557.6" r="1.2" fill="#108050"/>
<circle cx="368.18" cy="544.5" r="1.2" fill="#108050"/>
</g>
<g clip-path="url(#ccU)">
<polyline points="122.33,620 133.5,618.7 144.68,617.4 155.85,613 167.03,606.7 178.2,602.9 189.38,602.9 200.55,603.4 211.73,603.7 222.9,608.8 234.07,607.6 245.25,607 256.43,610 267.6,610 278.78,610 289.95,612.6 301.12,610.5 312.3,609.7 323.48,609.1 334.65,610.5 345.83,608.5 357,609 368.18,606.7 412.88,597.3 502.28,595.6 535.8,583.5" fill="none" stroke="#c77c9c" stroke-width="0.9" stroke-linejoin="round"/>
<circle cx="122.33" cy="620" r="1.1" fill="#b0607e"/>
<circle cx="133.5" cy="618.7" r="1.1" fill="#b0607e"/>
<circle cx="144.68" cy="617.4" r="1.1" fill="#b0607e"/>
<circle cx="155.85" cy="613" r="1.1" fill="#b0607e"/>
<circle cx="167.03" cy="606.7" r="1.1" fill="#b0607e"/>
<circle cx="178.2" cy="602.9" r="1.1" fill="#b0607e"/>
<circle cx="189.38" cy="602.9" r="1.1" fill="#b0607e"/>
<circle cx="200.55" cy="603.4" r="1.1" fill="#b0607e"/>
<circle cx="211.73" cy="603.7" r="1.1" fill="#b0607e"/>
<circle cx="222.9" cy="608.8" r="1.1" fill="#b0607e"/>
<circle cx="234.07" cy="607.6" r="1.1" fill="#b0607e"/>
<circle cx="245.25" cy="607" r="1.1" fill="#b0607e"/>
<circle cx="256.43" cy="610" r="1.1" fill="#b0607e"/>
<circle cx="267.6" cy="610" r="1.1" fill="#b0607e"/>
<circle cx="278.78" cy="610" r="1.1" fill="#b0607e"/>
<circle cx="289.95" cy="612.6" r="1.1" fill="#b0607e"/>
<circle cx="301.12" cy="610.5" r="1.1" fill="#b0607e"/>
<circle cx="312.3" cy="609.7" r="1.1" fill="#b0607e"/>
<circle cx="323.48" cy="609.1" r="1.1" fill="#b0607e"/>
<circle cx="334.65" cy="610.5" r="1.1" fill="#b0607e"/>
<circle cx="345.83" cy="608.5" r="1.1" fill="#b0607e"/>
<circle cx="357" cy="609" r="1.1" fill="#b0607e"/>
<circle cx="368.18" cy="606.7" r="1.1" fill="#b0607e"/>
<circle cx="412.88" cy="597.3" r="1.1" fill="#b0607e"/>
<circle cx="502.28" cy="595.6" r="1.1" fill="#b0607e"/>
<circle cx="535.8" cy="583.5" r="1.1" fill="#b0607e"/>
</g>
<g clip-path="url(#ccU)">
<polyline points="122.33,575.1 133.5,570.3 144.68,571.8 155.85,560.9 167.03,563.8 178.2,563.8 189.38,560.3 200.55,563.1 211.73,571.8 222.9,575.5 234.07,577 245.25,578.7 256.43,581 267.6,582.5 278.78,583 289.95,604.7 301.12,610.5 312.3,616.4 323.48,617.8 334.65,622.8 345.83,622.8 357,620.7 368.18,621.6 412.88,621.5 502.28,629 535.8,631.8" fill="none" stroke="#e07a52" stroke-width="0.9" stroke-linejoin="round"/>
<circle cx="122.33" cy="575.1" r="1.2" fill="#c8603a"/>
<circle cx="133.5" cy="570.3" r="1.2" fill="#c8603a"/>
<circle cx="144.68" cy="571.8" r="1.2" fill="#c8603a"/>
<circle cx="155.85" cy="560.9" r="1.2" fill="#c8603a"/>
<circle cx="167.03" cy="563.8" r="1.2" fill="#c8603a"/>
<circle cx="178.2" cy="563.8" r="1.2" fill="#c8603a"/>
<circle cx="189.38" cy="560.3" r="1.2" fill="#c8603a"/>
<circle cx="200.55" cy="563.1" r="1.2" fill="#c8603a"/>
<circle cx="211.73" cy="571.8" r="1.2" fill="#c8603a"/>
<circle cx="222.9" cy="575.5" r="1.2" fill="#c8603a"/>
<circle cx="234.07" cy="577" r="1.2" fill="#c8603a"/>
<circle cx="245.25" cy="578.7" r="1.2" fill="#c8603a"/>
<circle cx="256.43" cy="581" r="1.2" fill="#c8603a"/>
<circle cx="267.6" cy="582.5" r="1.2" fill="#c8603a"/>
<circle cx="278.78" cy="583" r="1.2" fill="#c8603a"/>
<circle cx="289.95" cy="604.7" r="1.2" fill="#c8603a"/>
<circle cx="301.12" cy="610.5" r="1.2" fill="#c8603a"/>
<circle cx="312.3" cy="616.4" r="1.2" fill="#c8603a"/>
<circle cx="323.48" cy="617.8" r="1.2" fill="#c8603a"/>
<circle cx="334.65" cy="622.8" r="1.2" fill="#c8603a"/>
<circle cx="345.83" cy="622.8" r="1.2" fill="#c8603a"/>
<circle cx="357" cy="620.7" r="1.2" fill="#c8603a"/>
<circle cx="368.18" cy="621.6" r="1.2" fill="#c8603a"/>
<circle cx="412.88" cy="621.5" r="1.2" fill="#c8603a"/>
<circle cx="502.28" cy="629" r="1.2" fill="#c8603a"/>
<circle cx="535.8" cy="631.8" r="1.2" fill="#c8603a"/>
</g>
<g clip-path="url(#ccU)">
<polyline points="122.33,579.5 133.5,572.5 144.68,555 155.85,507.5 167.03,575 178.2,583.4 189.38,606 200.55,615.6 211.73,613.6 222.9,614.4 234.07,614.3 245.25,612.9 256.43,612 267.6,621.3 278.78,623.6 289.95,627 301.12,622.8 312.3,625.1 323.48,616.4 334.65,624.2 345.83,623 357,623.6 368.18,626.3 412.88,620.4 502.28,601.5 535.8,620.4" fill="none" stroke="#5c5c98" stroke-width="0.9" stroke-linejoin="round"/>
<circle cx="122.33" cy="579.5" r="1.2" fill="#3e3e78"/>
<circle cx="133.5" cy="572.5" r="1.2" fill="#3e3e78"/>
<circle cx="144.68" cy="555" r="1.2" fill="#3e3e78"/>
<circle cx="155.85" cy="507.5" r="1.2" fill="#3e3e78"/>
<circle cx="167.03" cy="575" r="1.2" fill="#3e3e78"/>
<circle cx="178.2" cy="583.4" r="1.2" fill="#3e3e78"/>
<circle cx="189.38" cy="606" r="1.2" fill="#3e3e78"/>
<circle cx="200.55" cy="615.6" r="1.2" fill="#3e3e78"/>
<circle cx="211.73" cy="613.6" r="1.2" fill="#3e3e78"/>
<circle cx="222.9" cy="614.4" r="1.2" fill="#3e3e78"/>
<circle cx="234.07" cy="614.3" r="1.2" fill="#3e3e78"/>
<circle cx="245.25" cy="612.9" r="1.2" fill="#3e3e78"/>
<circle cx="256.43" cy="612" r="1.2" fill="#3e3e78"/>
<circle cx="267.6" cy="621.3" r="1.2" fill="#3e3e78"/>
<circle cx="278.78" cy="623.6" r="1.2" fill="#3e3e78"/>
<circle cx="289.95" cy="627" r="1.2" fill="#3e3e78"/>
<circle cx="301.12" cy="622.8" r="1.2" fill="#3e3e78"/>
<circle cx="312.3" cy="625.1" r="1.2" fill="#3e3e78"/>
<circle cx="323.48" cy="616.4" r="1.2" fill="#3e3e78"/>
<circle cx="334.65" cy="624.2" r="1.2" fill="#3e3e78"/>
<circle cx="345.83" cy="623" r="1.2" fill="#3e3e78"/>
<circle cx="357" cy="623.6" r="1.2" fill="#3e3e78"/>
<circle cx="368.18" cy="626.3" r="1.2" fill="#3e3e78"/>
<circle cx="412.88" cy="620.4" r="1.2" fill="#3e3e78"/>
<circle cx="502.28" cy="601.5" r="1.2" fill="#3e3e78"/>
<circle cx="535.8" cy="620.4" r="1.2" fill="#3e3e78"/>
</g>
<g clip-path="url(#ccU)">
<polyline points="122.33,572.5 133.5,568.1 144.68,567.5 155.85,553.3 167.03,557.6 178.2,557.2 189.38,552.8 200.55,557.4 211.73,568.8 222.9,575 234.07,576.3 245.25,578.2 256.43,580.5 267.6,582.2 278.78,582.8 289.95,595 301.12,601.8 312.3,610.5 323.48,610.5 334.65,616.4 345.83,614.3 357,619.3 368.18,611.1 412.88,613.5 502.28,622.2 535.8,628.4" fill="none" stroke="#f41c1c" stroke-width="1.1" stroke-linejoin="round"/>
<rect x="120.92" y="571.1" width="2.8" height="2.8" fill="#e00000"/>
<rect x="132.1" y="566.7" width="2.8" height="2.8" fill="#e00000"/>
<rect x="143.28" y="566.1" width="2.8" height="2.8" fill="#e00000"/>
<rect x="154.45" y="551.9" width="2.8" height="2.8" fill="#e00000"/>
<rect x="165.62" y="556.2" width="2.8" height="2.8" fill="#e00000"/>
<rect x="176.8" y="555.8" width="2.8" height="2.8" fill="#e00000"/>
<rect x="187.97" y="551.4" width="2.8" height="2.8" fill="#e00000"/>
<rect x="199.15" y="556" width="2.8" height="2.8" fill="#e00000"/>
<rect x="210.33" y="567.4" width="2.8" height="2.8" fill="#e00000"/>
<rect x="221.5" y="573.6" width="2.8" height="2.8" fill="#e00000"/>
<rect x="232.67" y="574.9" width="2.8" height="2.8" fill="#e00000"/>
<rect x="243.85" y="576.8" width="2.8" height="2.8" fill="#e00000"/>
<rect x="255.03" y="579.1" width="2.8" height="2.8" fill="#e00000"/>
<rect x="266.2" y="580.8" width="2.8" height="2.8" fill="#e00000"/>
<rect x="277.38" y="581.4" width="2.8" height="2.8" fill="#e00000"/>
<rect x="288.55" y="593.6" width="2.8" height="2.8" fill="#e00000"/>
<rect x="299.73" y="600.4" width="2.8" height="2.8" fill="#e00000"/>
<rect x="310.9" y="609.1" width="2.8" height="2.8" fill="#e00000"/>
<rect x="322.08" y="609.1" width="2.8" height="2.8" fill="#e00000"/>
<rect x="333.25" y="615" width="2.8" height="2.8" fill="#e00000"/>
<rect x="344.43" y="612.9" width="2.8" height="2.8" fill="#e00000"/>
<rect x="355.6" y="617.9" width="2.8" height="2.8" fill="#e00000"/>
<rect x="366.78" y="609.7" width="2.8" height="2.8" fill="#e00000"/>
<rect x="411.48" y="612.1" width="2.8" height="2.8" fill="#e00000"/>
<rect x="500.88" y="620.8" width="2.8" height="2.8" fill="#e00000"/>
<rect x="534.4" y="627" width="2.8" height="2.8" fill="#e00000"/>
</g>
<g clip-path="url(#ccU)">
<polyline points="122.33,602.9 133.5,582.3 144.68,577.3 155.85,560.3 167.03,574 178.2,578 189.38,581.6 200.55,603 211.73,624.5 222.9,631 234.07,637.6 245.25,640.2 256.43,642 267.6,643.4 278.78,642 289.95,644.6 301.12,642.5 312.3,645.5 323.48,644 334.65,644.6 345.83,644 357,645.5 368.18,642.9 412.88,633.2 502.28,582.5 535.8,598" fill="none" stroke="#2020a8" stroke-width="1" stroke-linejoin="round"/>
<circle cx="122.33" cy="602.9" r="1.5" fill="#10108a"/>
<circle cx="133.5" cy="582.3" r="1.5" fill="#10108a"/>
<circle cx="144.68" cy="577.3" r="1.5" fill="#10108a"/>
<circle cx="155.85" cy="560.3" r="1.5" fill="#10108a"/>
<circle cx="167.03" cy="574" r="1.5" fill="#10108a"/>
<circle cx="178.2" cy="578" r="1.5" fill="#10108a"/>
<circle cx="189.38" cy="581.6" r="1.5" fill="#10108a"/>
<circle cx="200.55" cy="603" r="1.5" fill="#10108a"/>
<circle cx="211.73" cy="624.5" r="1.5" fill="#10108a"/>
<circle cx="222.9" cy="631" r="1.5" fill="#10108a"/>
<circle cx="234.07" cy="637.6" r="1.5" fill="#10108a"/>
<circle cx="245.25" cy="640.2" r="1.5" fill="#10108a"/>
<circle cx="256.43" cy="642" r="1.5" fill="#10108a"/>
<circle cx="267.6" cy="643.4" r="1.5" fill="#10108a"/>
<circle cx="278.78" cy="642" r="1.5" fill="#10108a"/>
<circle cx="289.95" cy="644.6" r="1.5" fill="#10108a"/>
<circle cx="301.12" cy="642.5" r="1.5" fill="#10108a"/>
<circle cx="312.3" cy="645.5" r="1.5" fill="#10108a"/>
<circle cx="323.48" cy="644" r="1.5" fill="#10108a"/>
<circle cx="334.65" cy="644.6" r="1.5" fill="#10108a"/>
<circle cx="345.83" cy="644" r="1.5" fill="#10108a"/>
<circle cx="357" cy="645.5" r="1.5" fill="#10108a"/>
<circle cx="368.18" cy="642.9" r="1.5" fill="#10108a"/>
<circle cx="412.88" cy="633.2" r="1.5" fill="#10108a"/>
<circle cx="502.28" cy="582.5" r="1.5" fill="#10108a"/>
<circle cx="535.8" cy="598" r="1.5" fill="#10108a"/>
</g>
<g clip-path="url(#ccL)">
<polyline points="122.33,578 133.5,568.8 144.68,563.2 155.85,555.2 167.03,548 178.2,548.8 189.38,554 200.55,550.4 211.73,544 222.9,541.2 234.07,560 245.25,544 256.43,560 267.6,552 278.78,553.2 289.95,546.2 301.12,542.9 312.3,546.8 323.48,540.3 334.65,557.6 368.18,544.5" fill="none" stroke="#22a06c" stroke-width="1" stroke-linejoin="round"/>
<circle cx="122.33" cy="578" r="1.2" fill="#108050"/>
<circle cx="133.5" cy="568.8" r="1.2" fill="#108050"/>
<circle cx="144.68" cy="563.2" r="1.2" fill="#108050"/>
<circle cx="155.85" cy="555.2" r="1.2" fill="#108050"/>
<circle cx="167.03" cy="548" r="1.2" fill="#108050"/>
<circle cx="178.2" cy="548.8" r="1.2" fill="#108050"/>
<circle cx="189.38" cy="554" r="1.2" fill="#108050"/>
<circle cx="200.55" cy="550.4" r="1.2" fill="#108050"/>
<circle cx="211.73" cy="544" r="1.2" fill="#108050"/>
<circle cx="222.9" cy="541.2" r="1.2" fill="#108050"/>
<circle cx="234.07" cy="560" r="1.2" fill="#108050"/>
<circle cx="245.25" cy="544" r="1.2" fill="#108050"/>
<circle cx="256.43" cy="560" r="1.2" fill="#108050"/>
<circle cx="267.6" cy="552" r="1.2" fill="#108050"/>
<circle cx="278.78" cy="553.2" r="1.2" fill="#108050"/>
<circle cx="289.95" cy="546.2" r="1.2" fill="#108050"/>
<circle cx="301.12" cy="542.9" r="1.2" fill="#108050"/>
<circle cx="312.3" cy="546.8" r="1.2" fill="#108050"/>
<circle cx="323.48" cy="540.3" r="1.2" fill="#108050"/>
<circle cx="334.65" cy="557.6" r="1.2" fill="#108050"/>
<circle cx="368.18" cy="544.5" r="1.2" fill="#108050"/>
</g>
<g clip-path="url(#ccL)">
<polyline points="122.33,620 133.5,618.7 144.68,617.4 155.85,613 167.03,606.7 178.2,602.9 189.38,602.9 200.55,603.4 211.73,603.7 222.9,608.8 234.07,607.6 245.25,607 256.43,610 267.6,610 278.78,610 289.95,612.6 301.12,610.5 312.3,609.7 323.48,609.1 334.65,610.5 345.83,608.5 357,609 368.18,606.7 412.88,597.3 502.28,595.6 535.8,583.5" fill="none" stroke="#c77c9c" stroke-width="0.9" stroke-linejoin="round"/>
<circle cx="122.33" cy="620" r="1.1" fill="#b0607e"/>
<circle cx="133.5" cy="618.7" r="1.1" fill="#b0607e"/>
<circle cx="144.68" cy="617.4" r="1.1" fill="#b0607e"/>
<circle cx="155.85" cy="613" r="1.1" fill="#b0607e"/>
<circle cx="167.03" cy="606.7" r="1.1" fill="#b0607e"/>
<circle cx="178.2" cy="602.9" r="1.1" fill="#b0607e"/>
<circle cx="189.38" cy="602.9" r="1.1" fill="#b0607e"/>
<circle cx="200.55" cy="603.4" r="1.1" fill="#b0607e"/>
<circle cx="211.73" cy="603.7" r="1.1" fill="#b0607e"/>
<circle cx="222.9" cy="608.8" r="1.1" fill="#b0607e"/>
<circle cx="234.07" cy="607.6" r="1.1" fill="#b0607e"/>
<circle cx="245.25" cy="607" r="1.1" fill="#b0607e"/>
<circle cx="256.43" cy="610" r="1.1" fill="#b0607e"/>
<circle cx="267.6" cy="610" r="1.1" fill="#b0607e"/>
<circle cx="278.78" cy="610" r="1.1" fill="#b0607e"/>
<circle cx="289.95" cy="612.6" r="1.1" fill="#b0607e"/>
<circle cx="301.12" cy="610.5" r="1.1" fill="#b0607e"/>
<circle cx="312.3" cy="609.7" r="1.1" fill="#b0607e"/>
<circle cx="323.48" cy="609.1" r="1.1" fill="#b0607e"/>
<circle cx="334.65" cy="610.5" r="1.1" fill="#b0607e"/>
<circle cx="345.83" cy="608.5" r="1.1" fill="#b0607e"/>
<circle cx="357" cy="609" r="1.1" fill="#b0607e"/>
<circle cx="368.18" cy="606.7" r="1.1" fill="#b0607e"/>
<circle cx="412.88" cy="597.3" r="1.1" fill="#b0607e"/>
<circle cx="502.28" cy="595.6" r="1.1" fill="#b0607e"/>
<circle cx="535.8" cy="583.5" r="1.1" fill="#b0607e"/>
</g>
<g clip-path="url(#ccL)">
<polyline points="122.33,575.1 133.5,570.3 144.68,571.8 155.85,560.9 167.03,563.8 178.2,563.8 189.38,560.3 200.55,563.1 211.73,571.8 222.9,575.5 234.07,577 245.25,578.7 256.43,581 267.6,582.5 278.78,583 289.95,604.7 301.12,610.5 312.3,616.4 323.48,617.8 334.65,622.8 345.83,622.8 357,620.7 368.18,621.6 412.88,621.5 502.28,629 535.8,631.8" fill="none" stroke="#e07a52" stroke-width="0.9" stroke-linejoin="round"/>
<circle cx="122.33" cy="575.1" r="1.2" fill="#c8603a"/>
<circle cx="133.5" cy="570.3" r="1.2" fill="#c8603a"/>
<circle cx="144.68" cy="571.8" r="1.2" fill="#c8603a"/>
<circle cx="155.85" cy="560.9" r="1.2" fill="#c8603a"/>
<circle cx="167.03" cy="563.8" r="1.2" fill="#c8603a"/>
<circle cx="178.2" cy="563.8" r="1.2" fill="#c8603a"/>
<circle cx="189.38" cy="560.3" r="1.2" fill="#c8603a"/>
<circle cx="200.55" cy="563.1" r="1.2" fill="#c8603a"/>
<circle cx="211.73" cy="571.8" r="1.2" fill="#c8603a"/>
<circle cx="222.9" cy="575.5" r="1.2" fill="#c8603a"/>
<circle cx="234.07" cy="577" r="1.2" fill="#c8603a"/>
<circle cx="245.25" cy="578.7" r="1.2" fill="#c8603a"/>
<circle cx="256.43" cy="581" r="1.2" fill="#c8603a"/>
<circle cx="267.6" cy="582.5" r="1.2" fill="#c8603a"/>
<circle cx="278.78" cy="583" r="1.2" fill="#c8603a"/>
<circle cx="289.95" cy="604.7" r="1.2" fill="#c8603a"/>
<circle cx="301.12" cy="610.5" r="1.2" fill="#c8603a"/>
<circle cx="312.3" cy="616.4" r="1.2" fill="#c8603a"/>
<circle cx="323.48" cy="617.8" r="1.2" fill="#c8603a"/>
<circle cx="334.65" cy="622.8" r="1.2" fill="#c8603a"/>
<circle cx="345.83" cy="622.8" r="1.2" fill="#c8603a"/>
<circle cx="357" cy="620.7" r="1.2" fill="#c8603a"/>
<circle cx="368.18" cy="621.6" r="1.2" fill="#c8603a"/>
<circle cx="412.88" cy="621.5" r="1.2" fill="#c8603a"/>
<circle cx="502.28" cy="629" r="1.2" fill="#c8603a"/>
<circle cx="535.8" cy="631.8" r="1.2" fill="#c8603a"/>
</g>
<g clip-path="url(#ccL)">
<polyline points="122.33,579.5 133.5,572.5 144.68,555 155.85,507.5 167.03,575 178.2,583.4 189.38,606 200.55,615.6 211.73,613.6 222.9,614.4 234.07,614.3 245.25,612.9 256.43,612 267.6,621.3 278.78,623.6 289.95,627 301.12,622.8 312.3,625.1 323.48,616.4 334.65,624.2 345.83,623 357,623.6 368.18,626.3 412.88,620.4 502.28,601.5 535.8,620.4" fill="none" stroke="#5c5c98" stroke-width="0.9" stroke-linejoin="round"/>
<circle cx="122.33" cy="579.5" r="1.2" fill="#3e3e78"/>
<circle cx="133.5" cy="572.5" r="1.2" fill="#3e3e78"/>
<circle cx="144.68" cy="555" r="1.2" fill="#3e3e78"/>
<circle cx="155.85" cy="507.5" r="1.2" fill="#3e3e78"/>
<circle cx="167.03" cy="575" r="1.2" fill="#3e3e78"/>
<circle cx="178.2" cy="583.4" r="1.2" fill="#3e3e78"/>
<circle cx="189.38" cy="606" r="1.2" fill="#3e3e78"/>
<circle cx="200.55" cy="615.6" r="1.2" fill="#3e3e78"/>
<circle cx="211.73" cy="613.6" r="1.2" fill="#3e3e78"/>
<circle cx="222.9" cy="614.4" r="1.2" fill="#3e3e78"/>
<circle cx="234.07" cy="614.3" r="1.2" fill="#3e3e78"/>
<circle cx="245.25" cy="612.9" r="1.2" fill="#3e3e78"/>
<circle cx="256.43" cy="612" r="1.2" fill="#3e3e78"/>
<circle cx="267.6" cy="621.3" r="1.2" fill="#3e3e78"/>
<circle cx="278.78" cy="623.6" r="1.2" fill="#3e3e78"/>
<circle cx="289.95" cy="627" r="1.2" fill="#3e3e78"/>
<circle cx="301.12" cy="622.8" r="1.2" fill="#3e3e78"/>
<circle cx="312.3" cy="625.1" r="1.2" fill="#3e3e78"/>
<circle cx="323.48" cy="616.4" r="1.2" fill="#3e3e78"/>
<circle cx="334.65" cy="624.2" r="1.2" fill="#3e3e78"/>
<circle cx="345.83" cy="623" r="1.2" fill="#3e3e78"/>
<circle cx="357" cy="623.6" r="1.2" fill="#3e3e78"/>
<circle cx="368.18" cy="626.3" r="1.2" fill="#3e3e78"/>
<circle cx="412.88" cy="620.4" r="1.2" fill="#3e3e78"/>
<circle cx="502.28" cy="601.5" r="1.2" fill="#3e3e78"/>
<circle cx="535.8" cy="620.4" r="1.2" fill="#3e3e78"/>
</g>
<g clip-path="url(#ccL)">
<polyline points="122.33,572.5 133.5,568.1 144.68,567.5 155.85,553.3 167.03,557.6 178.2,557.2 189.38,552.8 200.55,557.4 211.73,568.8 222.9,575 234.07,576.3 245.25,578.2 256.43,580.5 267.6,582.2 278.78,582.8 289.95,595 301.12,601.8 312.3,610.5 323.48,610.5 334.65,616.4 345.83,614.3 357,619.3 368.18,611.1 412.88,613.5 502.28,622.2 535.8,628.4" fill="none" stroke="#f41c1c" stroke-width="1.1" stroke-linejoin="round"/>
<rect x="120.92" y="571.1" width="2.8" height="2.8" fill="#e00000"/>
<rect x="132.1" y="566.7" width="2.8" height="2.8" fill="#e00000"/>
<rect x="143.28" y="566.1" width="2.8" height="2.8" fill="#e00000"/>
<rect x="154.45" y="551.9" width="2.8" height="2.8" fill="#e00000"/>
<rect x="165.62" y="556.2" width="2.8" height="2.8" fill="#e00000"/>
<rect x="176.8" y="555.8" width="2.8" height="2.8" fill="#e00000"/>
<rect x="187.97" y="551.4" width="2.8" height="2.8" fill="#e00000"/>
<rect x="199.15" y="556" width="2.8" height="2.8" fill="#e00000"/>
<rect x="210.33" y="567.4" width="2.8" height="2.8" fill="#e00000"/>
<rect x="221.5" y="573.6" width="2.8" height="2.8" fill="#e00000"/>
<rect x="232.67" y="574.9" width="2.8" height="2.8" fill="#e00000"/>
<rect x="243.85" y="576.8" width="2.8" height="2.8" fill="#e00000"/>
<rect x="255.03" y="579.1" width="2.8" height="2.8" fill="#e00000"/>
<rect x="266.2" y="580.8" width="2.8" height="2.8" fill="#e00000"/>
<rect x="277.38" y="581.4" width="2.8" height="2.8" fill="#e00000"/>
<rect x="288.55" y="593.6" width="2.8" height="2.8" fill="#e00000"/>
<rect x="299.73" y="600.4" width="2.8" height="2.8" fill="#e00000"/>
<rect x="310.9" y="609.1" width="2.8" height="2.8" fill="#e00000"/>
<rect x="322.08" y="609.1" width="2.8" height="2.8" fill="#e00000"/>
<rect x="333.25" y="615" width="2.8" height="2.8" fill="#e00000"/>
<rect x="344.43" y="612.9" width="2.8" height="2.8" fill="#e00000"/>
<rect x="355.6" y="617.9" width="2.8" height="2.8" fill="#e00000"/>
<rect x="366.78" y="609.7" width="2.8" height="2.8" fill="#e00000"/>
<rect x="411.48" y="612.1" width="2.8" height="2.8" fill="#e00000"/>
<rect x="500.88" y="620.8" width="2.8" height="2.8" fill="#e00000"/>
<rect x="534.4" y="627" width="2.8" height="2.8" fill="#e00000"/>
</g>
<g clip-path="url(#ccL)">
<polyline points="122.33,602.9 133.5,582.3 144.68,577.3 155.85,560.3 167.03,574 178.2,578 189.38,581.6 200.55,603 211.73,624.5 222.9,631 234.07,637.6 245.25,640.2 256.43,642 267.6,643.4 278.78,642 289.95,644.6 301.12,642.5 312.3,645.5 323.48,644 334.65,644.6 345.83,644 357,645.5 368.18,642.9 412.88,633.2 502.28,582.5 535.8,598" fill="none" stroke="#2020a8" stroke-width="1" stroke-linejoin="round"/>
<circle cx="122.33" cy="602.9" r="1.5" fill="#10108a"/>
<circle cx="133.5" cy="582.3" r="1.5" fill="#10108a"/>
<circle cx="144.68" cy="577.3" r="1.5" fill="#10108a"/>
<circle cx="155.85" cy="560.3" r="1.5" fill="#10108a"/>
<circle cx="167.03" cy="574" r="1.5" fill="#10108a"/>
<circle cx="178.2" cy="578" r="1.5" fill="#10108a"/>
<circle cx="189.38" cy="581.6" r="1.5" fill="#10108a"/>
<circle cx="200.55" cy="603" r="1.5" fill="#10108a"/>
<circle cx="211.73" cy="624.5" r="1.5" fill="#10108a"/>
<circle cx="222.9" cy="631" r="1.5" fill="#10108a"/>
<circle cx="234.07" cy="637.6" r="1.5" fill="#10108a"/>
<circle cx="245.25" cy="640.2" r="1.5" fill="#10108a"/>
<circle cx="256.43" cy="642" r="1.5" fill="#10108a"/>
<circle cx="267.6" cy="643.4" r="1.5" fill="#10108a"/>
<circle cx="278.78" cy="642" r="1.5" fill="#10108a"/>
<circle cx="289.95" cy="644.6" r="1.5" fill="#10108a"/>
<circle cx="301.12" cy="642.5" r="1.5" fill="#10108a"/>
<circle cx="312.3" cy="645.5" r="1.5" fill="#10108a"/>
<circle cx="323.48" cy="644" r="1.5" fill="#10108a"/>
<circle cx="334.65" cy="644.6" r="1.5" fill="#10108a"/>
<circle cx="345.83" cy="644" r="1.5" fill="#10108a"/>
<circle cx="357" cy="645.5" r="1.5" fill="#10108a"/>
<circle cx="368.18" cy="642.9" r="1.5" fill="#10108a"/>
<circle cx="412.88" cy="633.2" r="1.5" fill="#10108a"/>
<circle cx="502.28" cy="582.5" r="1.5" fill="#10108a"/>
<circle cx="535.8" cy="598" r="1.5" fill="#10108a"/>
</g>
<line x1="382.2" y1="503.7" x2="397.3" y2="503.7" stroke="#2020a8" stroke-width="0.85" stroke-opacity="0.8"/>
<circle cx="389.75" cy="503.7" r="1.55" fill="#10108a"/>
<text x="405.5" y="506.98" font-size="8" text-anchor="start" fill="#2a2a2a" font-weight="bold" font-style="normal" textLength="34.9" lengthAdjust="spacingAndGlyphs" stroke="#2a2a2a" stroke-width="0.1">ALT (U/L)</text>
<line x1="382.2" y1="519.9" x2="397.3" y2="519.9" stroke="#5c5c98" stroke-width="0.85" stroke-opacity="0.8"/>
<circle cx="389.75" cy="519.9" r="1.55" fill="#3e3e78"/>
<text x="405.5" y="523.18" font-size="8" text-anchor="start" fill="#2a2a2a" font-weight="bold" font-style="normal" textLength="36" lengthAdjust="spacingAndGlyphs" stroke="#2a2a2a" stroke-width="0.1">AST (U/L)</text>
<line x1="382.2" y1="535.9" x2="397.3" y2="535.9" stroke="#c77c9c" stroke-width="0.85" stroke-opacity="0.8"/>
<circle cx="389.75" cy="535.9" r="1.55" fill="#b0607e"/>
<text x="405.5" y="539.18" font-size="8" text-anchor="start" fill="#2a2a2a" font-weight="bold" font-style="normal" textLength="33" lengthAdjust="spacingAndGlyphs" stroke="#2a2a2a" stroke-width="0.1">Alb (g/L)</text>
<line x1="452.7" y1="503.7" x2="468.2" y2="503.7" stroke="#f41c1c" stroke-width="0.85" stroke-opacity="0.8"/>
<circle cx="460.45" cy="503.7" r="1.55" fill="#e00000"/>
<text x="476" y="506.98" font-size="8" text-anchor="start" fill="#2a2a2a" font-weight="bold" font-style="normal" textLength="49" lengthAdjust="spacingAndGlyphs" stroke="#2a2a2a" stroke-width="0.1">TBil (µmol/L)</text>
<line x1="452.7" y1="519.9" x2="468.2" y2="519.9" stroke="#e07a52" stroke-width="0.85" stroke-opacity="0.8"/>
<circle cx="460.45" cy="519.9" r="1.55" fill="#c8603a"/>
<text x="476" y="523.18" font-size="8" text-anchor="start" fill="#2a2a2a" font-weight="bold" font-style="normal" textLength="50.4" lengthAdjust="spacingAndGlyphs" stroke="#2a2a2a" stroke-width="0.1">DBil (µmol/L)</text>
<line x1="452.7" y1="535.9" x2="468.2" y2="535.9" stroke="#22a06c" stroke-width="0.85" stroke-opacity="0.8"/>
<circle cx="460.45" cy="535.9" r="1.55" fill="#108050"/>
<text x="476" y="539.18" font-size="8" text-anchor="start" fill="#2a2a2a" font-weight="bold" font-style="normal" textLength="42" lengthAdjust="spacingAndGlyphs" stroke="#2a2a2a" stroke-width="0.1">OI (mmHg)</text>
<text x="4.6" y="697.64" font-size="7.6" text-anchor="start" fill="#2a2a2a" font-weight="bold" font-style="normal" textLength="75.8" lengthAdjust="spacingAndGlyphs" stroke="#2a2a2a" stroke-width="0.2">Days after admission</text>
<line x1="6" y1="699.1" x2="123" y2="699.1" stroke="#555" stroke-width="0.9"/>
<text x="9.5" y="710.84" font-size="9" text-anchor="start" fill="#1a1a1a" font-weight="bold" font-style="normal" textLength="43.2" lengthAdjust="spacingAndGlyphs" stroke="#1a1a1a" stroke-width="0.3">Treatment</text>
<text x="119.4" y="708.53" font-size="8.98" text-anchor="end" fill="#f6bca2" font-weight="bold" font-style="normal" textLength="31.5" lengthAdjust="spacingAndGlyphs" stroke="#f6bca2" stroke-width="0.15">Tazocin</text>
<text x="118.1" y="717.13" font-size="7.86" text-anchor="end" fill="#dbb47e" font-weight="bold" font-style="normal" textLength="42.4" lengthAdjust="spacingAndGlyphs" stroke="#dbb47e" stroke-width="0.15">Meropenem</text>
<text x="118.8" y="726.48" font-size="7.99" text-anchor="end" fill="#f01828" font-weight="bold" font-style="normal" textLength="43.1" lengthAdjust="spacingAndGlyphs" stroke="#f01828" stroke-width="0.15">Ceftazidime</text>
<text x="118.8" y="738.14" font-size="7.9" text-anchor="end" fill="#f98320" font-weight="bold" font-style="normal" textLength="34.6" lengthAdjust="spacingAndGlyphs" stroke="#f98320" stroke-width="0.15">SMZ-TMP</text>
<text x="119.4" y="749.1" font-size="7.77" text-anchor="end" fill="#d2c43a" font-weight="bold" font-style="normal" textLength="32.8" lengthAdjust="spacingAndGlyphs" stroke="#d2c43a" stroke-width="0.15">Penicillin</text>
<text x="118.5" y="759.18" font-size="8" text-anchor="end" fill="#2f7c5c" font-weight="bold" font-style="normal" textLength="47" lengthAdjust="spacingAndGlyphs" stroke="#2f7c5c" stroke-width="0.15">Caspofungin</text>
<text x="119.4" y="769.41" font-size="7.8" text-anchor="end" fill="#1a96a0" font-weight="bold" font-style="normal" textLength="46.1" lengthAdjust="spacingAndGlyphs" stroke="#1a96a0" stroke-width="0.15">Voriconazole</text>
<text x="117.9" y="778.92" font-size="7.82" text-anchor="end" fill="#1c8cb0" font-weight="bold" font-style="normal" textLength="43.9" lengthAdjust="spacingAndGlyphs" stroke="#1c8cb0" stroke-width="0.15">Vancomycin</text>
<text x="118.6" y="789.74" font-size="9" text-anchor="end" fill="#2a2aa0" font-weight="bold" font-style="normal" textLength="37.5" lengthAdjust="spacingAndGlyphs" stroke="#2a2aa0" stroke-width="0.15">Linezolid</text>
<text x="121.2" y="798.87" font-size="8.25" text-anchor="end" fill="#a8508a" font-weight="bold" font-style="normal" textLength="74.9" lengthAdjust="spacingAndGlyphs" stroke="#a8508a" stroke-width="0.15">Methylprednisolone</text>
<text x="119.9" y="808.89" font-size="7.75" text-anchor="end" fill="#e03058" font-weight="bold" font-style="normal" textLength="40.6" lengthAdjust="spacingAndGlyphs" stroke="#e03058" stroke-width="0.15">Prednisone</text>
<text x="119.4" y="817.96" font-size="8.22" text-anchor="end" fill="#e8b2b2" font-weight="bold" font-style="normal" textLength="66.3" lengthAdjust="spacingAndGlyphs" stroke="#e8b2b2" stroke-width="0.15">Plasma exchange</text>
<text x="118.6" y="828.58" font-size="8.01" text-anchor="end" fill="#c85656" font-weight="bold" font-style="normal" textLength="21.4" lengthAdjust="spacingAndGlyphs" stroke="#c85656" stroke-width="0.15">CRRT</text>
<text x="117.9" y="837.68" font-size="7.17" text-anchor="end" fill="#7e7e7e" font-weight="bold" font-style="normal" textLength="99.2" lengthAdjust="spacingAndGlyphs" stroke="#7e7e7e" stroke-width="0.15">Respiratory support treatment</text>
<text x="119.9" y="849.34" font-size="7.88" text-anchor="end" fill="#d83090" font-weight="bold" font-style="normal" textLength="29.9" lengthAdjust="spacingAndGlyphs" stroke="#d83090" stroke-width="0.15">Biktarvy</text>
<rect x="122.5" y="700" width="33.1" height="9.2" fill="#fde6da"/>
<rect x="155.6" y="709.6" width="189.9" height="8.2" fill="#e0b981"/>
<rect x="356.7" y="718.2" width="66.8" height="8.5" fill="#f20a14"/>
<rect x="122.5" y="730.2" width="66.6" height="8.2" fill="#fb7e0c"/>
<rect x="356.7" y="730.2" width="185.1" height="8.4" fill="#fb7e0c"/>
<rect x="167.5" y="740.6" width="89.1" height="8.4" fill="#dcc83a"/>
<rect x="122.5" y="751" width="201" height="8.6" fill="#2e7c5a"/>
<rect x="167.5" y="761.6" width="374.3" height="8.2" fill="#12909c"/>
<rect x="234.5" y="771" width="89" height="8" fill="#1a88b0"/>
<rect x="323.5" y="782" width="55.3" height="8.6" fill="#4a2c9a"/>
<rect x="122.5" y="792" width="78.6" height="8.2" fill="#a5548c"/>
<rect x="457.8" y="801.8" width="84" height="8.4" fill="#e84558"/>
<rect x="155.6" y="809.5" width="11.9" height="9" fill="#e8b4b4"/>
<rect x="201.1" y="809.5" width="11" height="9" fill="#e8b4b4"/>
<rect x="122.5" y="820" width="156.9" height="9.2" fill="#c85a60"/>
<rect x="289" y="820.6" width="11" height="8.6" fill="#c85a60"/>
<rect x="312.6" y="820.6" width="11.2" height="8.6" fill="#c85a60"/>
<rect x="335" y="820.6" width="11" height="8.6" fill="#c85a60"/>
<rect x="357" y="820.6" width="10.6" height="8.6" fill="#c85a60"/>
<rect x="379.4" y="820.6" width="10.6" height="8.6" fill="#c85a60"/>
<rect x="402" y="820.6" width="10.8" height="8.6" fill="#c85a60"/>
<rect x="425" y="820.6" width="10.6" height="8.6" fill="#c85a60"/>
<rect x="447.6" y="820.6" width="10.6" height="8.6" fill="#c85a60"/>
<rect x="470.4" y="820.6" width="10.6" height="8.6" fill="#c85a60"/>
<rect x="493.4" y="820.6" width="10.4" height="8.6" fill="#c85a60"/>
<rect x="515.8" y="820.6" width="10.4" height="8.6" fill="#c85a60"/>
<rect x="531.2" y="820.6" width="10.6" height="8.6" fill="#c85a60"/>
<rect x="122.5" y="830.9" width="122.8" height="8.5" fill="#8e8e8e"/>
<rect x="245.3" y="830.9" width="159.7" height="8.5" fill="#c2c2c2"/>
<rect x="405" y="830.9" width="136.8" height="8.5" fill="#e4e4e4"/>
<rect x="356.7" y="842.2" width="185.1" height="8.4" fill="#d82a8c"/>
<text x="130.2" y="837.86" font-size="7.1" text-anchor="start" fill="#ffffff" font-weight="bold" font-style="normal" textLength="103.4" lengthAdjust="spacingAndGlyphs">Invasive mechanical ventilation</text>
<text x="313.8" y="837.89" font-size="7.2" text-anchor="middle" fill="#ffffff" font-weight="bold" font-style="normal" textLength="19.5" lengthAdjust="spacingAndGlyphs">HFNC</text>
<text x="470.6" y="838.13" font-size="7.3" text-anchor="middle" fill="#1a1a1a" font-weight="bold" font-style="normal" textLength="84" lengthAdjust="spacingAndGlyphs" stroke="#1a1a1a" stroke-width="0.1">Low-flow oxygen therapy</text>
<line x1="122.5" y1="699.1" x2="122.5" y2="851.5" stroke="#4a4a4a" stroke-width="0.9"/>
<line x1="155.6" y1="700.3" x2="155.6" y2="818.5" stroke="#4a4a4a" stroke-width="0.9"/>
<line x1="167.5" y1="700.3" x2="167.5" y2="818.5" stroke="#4a4a4a" stroke-width="0.9"/>
<line x1="189.1" y1="700.3" x2="189.1" y2="738.4" stroke="#4a4a4a" stroke-width="0.9"/>
<line x1="201.1" y1="700.3" x2="201.1" y2="818.5" stroke="#4a4a4a" stroke-width="0.9"/>
<line x1="212.1" y1="700.3" x2="212.1" y2="818.5" stroke="#4a4a4a" stroke-width="0.9"/>
<line x1="234.5" y1="700.3" x2="234.5" y2="779" stroke="#4a4a4a" stroke-width="0.9"/>
<line x1="245.3" y1="700.3" x2="245.3" y2="830.9" stroke="#4a4a4a" stroke-width="0.9"/>
<line x1="256.6" y1="700.3" x2="256.6" y2="749" stroke="#4a4a4a" stroke-width="0.9"/>
<line x1="279.4" y1="700.3" x2="279.4" y2="829.2" stroke="#4a4a4a" stroke-width="0.9"/>
<line x1="323.5" y1="700.3" x2="323.5" y2="790.6" stroke="#4a4a4a" stroke-width="0.9"/>
<line x1="345.5" y1="700.3" x2="345.5" y2="717.8" stroke="#4a4a4a" stroke-width="0.9"/>
<line x1="356.7" y1="700.3" x2="356.7" y2="850.6" stroke="#4a4a4a" stroke-width="0.9"/>
<line x1="378.8" y1="700.3" x2="378.8" y2="790.6" stroke="#4a4a4a" stroke-width="0.9"/>
<line x1="423.5" y1="700.3" x2="423.5" y2="726.6" stroke="#4a4a4a" stroke-width="0.9"/>
<line x1="457.8" y1="700.3" x2="457.8" y2="810.2" stroke="#4a4a4a" stroke-width="0.9"/>
<line x1="541.8" y1="698" x2="541.8" y2="851.5" stroke="#4a4a4a" stroke-width="0.9"/>
</svg>
</body></html>
